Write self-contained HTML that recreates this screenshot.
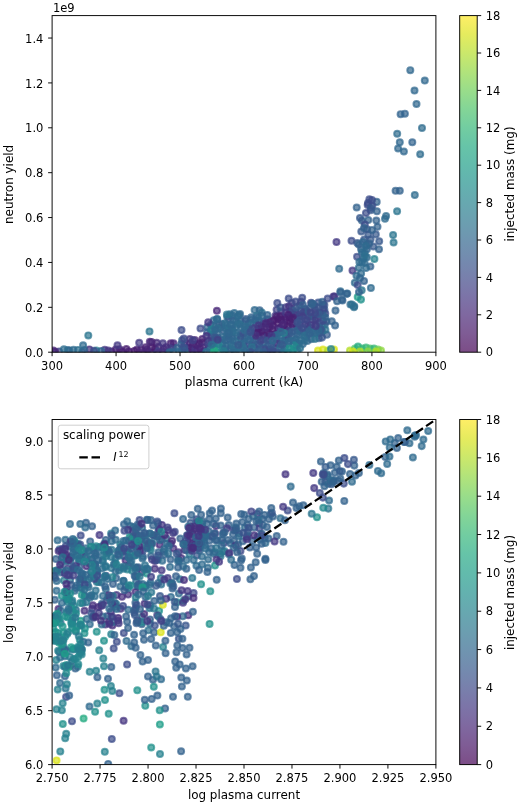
<!DOCTYPE html><html><head><meta charset="utf-8"><title>neutron yield vs plasma current</title><style>html,body{margin:0;padding:0;background:#fff;}svg{display:block;}text{font-family:"DejaVu Sans", "Liberation Sans", sans-serif;font-size:11.5px;fill:#000;}circle{fill:currentColor;stroke:currentColor;fill-opacity:0.7;stroke-opacity:0.7;stroke-width:1.95px;}</style></head><body>
<svg width="520" height="805" viewBox="0 0 520 805">
<defs>
<linearGradient id="vg" x1="0" y1="1" x2="0" y2="0">
<stop offset="0.000" stop-color="#7c4d87"/>
<stop offset="0.056" stop-color="#7f5c95"/>
<stop offset="0.111" stop-color="#7f68a0"/>
<stop offset="0.167" stop-color="#7c74a8"/>
<stop offset="0.222" stop-color="#7880ac"/>
<stop offset="0.278" stop-color="#738baf"/>
<stop offset="0.333" stop-color="#6f95b0"/>
<stop offset="0.389" stop-color="#6b9fb0"/>
<stop offset="0.444" stop-color="#67a8b0"/>
<stop offset="0.500" stop-color="#63b2af"/>
<stop offset="0.556" stop-color="#62bbac"/>
<stop offset="0.611" stop-color="#66c4a8"/>
<stop offset="0.667" stop-color="#72cda1"/>
<stop offset="0.722" stop-color="#83d597"/>
<stop offset="0.778" stop-color="#99dd8a"/>
<stop offset="0.833" stop-color="#b1e37b"/>
<stop offset="0.889" stop-color="#cbe86b"/>
<stop offset="0.944" stop-color="#e5eb5e"/>
<stop offset="1.000" stop-color="#feee66"/>
</linearGradient>
<clipPath id="ct"><rect x="52.1" y="15.6" width="383.80" height="336.60"/></clipPath>
<clipPath id="cb"><rect x="52.1" y="419.5" width="383.80" height="345.10"/></clipPath>
</defs>
<rect width="520" height="805" fill="#fff"/>
<g clip-path="url(#ct)">
<circle cx="299.3" cy="335.0" r="3.05" color="#38588c"/>
<circle cx="319.7" cy="333.0" r="3.05" color="#32658e"/>
<circle cx="296.2" cy="342.5" r="3.05" color="#355e8d"/>
<circle cx="315.8" cy="324.8" r="3.05" color="#404688"/>
<circle cx="156.7" cy="342.8" r="3.05" color="#472d7b"/>
<circle cx="173.0" cy="347.7" r="3.05" color="#3d4d8a"/>
<circle cx="291.8" cy="313.0" r="3.05" color="#3f4889"/>
<circle cx="293.1" cy="349.6" r="3.05" color="#218f8d"/>
<circle cx="264.0" cy="343.0" r="3.05" color="#306a8e"/>
<circle cx="300.1" cy="331.3" r="3.05" color="#32648e"/>
<circle cx="275.4" cy="315.7" r="3.05" color="#443b84"/>
<circle cx="237.9" cy="347.2" r="3.05" color="#31688e"/>
<circle cx="151.5" cy="352.6" r="3.05" color="#482071"/>
<circle cx="309.9" cy="327.4" r="3.05" color="#404688"/>
<circle cx="227.2" cy="316.8" r="3.05" color="#2f6c8e"/>
<circle cx="213.5" cy="334.5" r="3.05" color="#33638d"/>
<circle cx="243.5" cy="344.2" r="3.05" color="#33638d"/>
<circle cx="288.2" cy="337.9" r="3.05" color="#3a538b"/>
<circle cx="173.5" cy="343.3" r="3.05" color="#482979"/>
<circle cx="318.9" cy="338.3" r="3.05" color="#365c8d"/>
<circle cx="111.7" cy="351.4" r="3.05" color="#443b84"/>
<circle cx="320.7" cy="312.7" r="3.05" color="#33628d"/>
<circle cx="264.3" cy="321.4" r="3.05" color="#38588c"/>
<circle cx="208.8" cy="347.3" r="3.05" color="#2e6e8e"/>
<circle cx="315.5" cy="333.5" r="3.05" color="#2f6b8e"/>
<circle cx="276.5" cy="338.9" r="3.05" color="#32648e"/>
<circle cx="294.9" cy="314.2" r="3.05" color="#482173"/>
<circle cx="126.4" cy="349.1" r="3.05" color="#481f70"/>
<circle cx="155.1" cy="348.9" r="3.05" color="#472d7b"/>
<circle cx="298.5" cy="327.3" r="3.05" color="#3b518b"/>
<circle cx="311.0" cy="302.7" r="3.05" color="#414487"/>
<circle cx="263.6" cy="323.5" r="3.05" color="#453581"/>
<circle cx="291.7" cy="336.0" r="3.05" color="#30698e"/>
<circle cx="305.0" cy="308.7" r="3.05" color="#375a8c"/>
<circle cx="252.0" cy="335.9" r="3.05" color="#38588c"/>
<circle cx="299.0" cy="343.3" r="3.05" color="#2e6d8e"/>
<circle cx="192.7" cy="352.8" r="3.05" color="#433e85"/>
<circle cx="220.8" cy="327.8" r="3.05" color="#2e6d8e"/>
<circle cx="278.8" cy="349.2" r="3.05" color="#32658e"/>
<circle cx="266.8" cy="332.4" r="3.05" color="#472c7a"/>
<circle cx="119.7" cy="349.3" r="3.05" color="#482979"/>
<circle cx="259.6" cy="310.2" r="3.05" color="#33638d"/>
<circle cx="326.9" cy="334.8" r="3.05" color="#365c8d"/>
<circle cx="151.6" cy="342.0" r="3.05" color="#482374"/>
<circle cx="299.1" cy="316.2" r="3.05" color="#33638d"/>
<circle cx="223.2" cy="330.6" r="3.05" color="#34608d"/>
<circle cx="69.4" cy="350.4" r="3.05" color="#31688e"/>
<circle cx="281.2" cy="311.6" r="3.05" color="#424086"/>
<circle cx="278.2" cy="319.1" r="3.05" color="#482374"/>
<circle cx="324.8" cy="324.7" r="3.05" color="#2f6c8e"/>
<circle cx="317.5" cy="318.5" r="3.05" color="#463480"/>
<circle cx="297.6" cy="349.9" r="3.05" color="#25848e"/>
<circle cx="276.6" cy="309.8" r="3.05" color="#414487"/>
<circle cx="82.3" cy="351.8" r="3.05" color="#34608d"/>
<circle cx="326.5" cy="321.6" r="3.05" color="#38588c"/>
<circle cx="306.7" cy="310.6" r="3.05" color="#3c4f8a"/>
<circle cx="210.9" cy="324.7" r="3.05" color="#34608d"/>
<circle cx="163.7" cy="348.8" r="3.05" color="#482173"/>
<circle cx="297.0" cy="326.1" r="3.05" color="#3b518b"/>
<circle cx="285.5" cy="319.0" r="3.05" color="#472d7b"/>
<circle cx="122.2" cy="351.6" r="3.05" color="#482173"/>
<circle cx="241.4" cy="333.4" r="3.05" color="#375a8c"/>
<circle cx="275.0" cy="334.1" r="3.05" color="#33628d"/>
<circle cx="322.3" cy="331.5" r="3.05" color="#30698e"/>
<circle cx="311.3" cy="339.1" r="3.05" color="#33638d"/>
<circle cx="255.6" cy="339.1" r="3.05" color="#365c8d"/>
<circle cx="308.5" cy="316.5" r="3.05" color="#33628d"/>
<circle cx="263.5" cy="348.1" r="3.05" color="#31678e"/>
<circle cx="280.5" cy="307.4" r="3.05" color="#375a8c"/>
<circle cx="318.3" cy="302.5" r="3.05" color="#3b518b"/>
<circle cx="285.0" cy="340.2" r="3.05" color="#39558c"/>
<circle cx="285.4" cy="349.1" r="3.05" color="#2e6f8e"/>
<circle cx="221.8" cy="323.7" r="3.05" color="#355e8d"/>
<circle cx="276.8" cy="316.5" r="3.05" color="#482374"/>
<circle cx="322.1" cy="325.8" r="3.05" color="#306a8e"/>
<circle cx="53.4" cy="350.5" r="3.05" color="#482475"/>
<circle cx="273.8" cy="320.3" r="3.05" color="#481b6d"/>
<circle cx="245.2" cy="338.2" r="3.05" color="#30698e"/>
<circle cx="292.4" cy="352.1" r="3.05" color="#277f8e"/>
<circle cx="215.0" cy="326.3" r="3.05" color="#2c718e"/>
<circle cx="219.3" cy="347.5" r="3.05" color="#20928c"/>
<circle cx="232.5" cy="325.0" r="3.05" color="#2e6e8e"/>
<circle cx="212.4" cy="352.6" r="3.05" color="#1fa187"/>
<circle cx="158.6" cy="346.7" r="3.05" color="#472d7b"/>
<circle cx="281.3" cy="319.7" r="3.05" color="#482071"/>
<circle cx="207.1" cy="332.3" r="3.05" color="#365c8d"/>
<circle cx="260.5" cy="348.6" r="3.05" color="#3e4a89"/>
<circle cx="207.2" cy="327.1" r="3.05" color="#32658e"/>
<circle cx="208.6" cy="340.7" r="3.05" color="#443983"/>
<circle cx="259.3" cy="331.7" r="3.05" color="#453581"/>
<circle cx="59.1" cy="351.4" r="3.05" color="#404688"/>
<circle cx="228.7" cy="319.1" r="3.05" color="#3a538b"/>
<circle cx="268.0" cy="345.3" r="3.05" color="#34608d"/>
<circle cx="222.7" cy="343.7" r="3.05" color="#2e6f8e"/>
<circle cx="285.2" cy="329.7" r="3.05" color="#424186"/>
<circle cx="279.0" cy="332.9" r="3.05" color="#2f6b8e"/>
<circle cx="295.6" cy="339.6" r="3.05" color="#375a8c"/>
<circle cx="287.6" cy="325.9" r="3.05" color="#482374"/>
<circle cx="297.4" cy="333.9" r="3.05" color="#31668e"/>
<circle cx="192.9" cy="344.7" r="3.05" color="#46307e"/>
<circle cx="217.4" cy="333.6" r="3.05" color="#31688e"/>
<circle cx="225.0" cy="323.2" r="3.05" color="#2e6e8e"/>
<circle cx="292.7" cy="327.8" r="3.05" color="#443983"/>
<circle cx="188.1" cy="351.2" r="3.05" color="#38588c"/>
<circle cx="314.9" cy="338.9" r="3.05" color="#2c728e"/>
<circle cx="262.4" cy="331.6" r="3.05" color="#482071"/>
<circle cx="176.9" cy="347.7" r="3.05" color="#33628d"/>
<circle cx="243.8" cy="341.8" r="3.05" color="#31668e"/>
<circle cx="289.7" cy="317.6" r="3.05" color="#482071"/>
<circle cx="235.6" cy="352.0" r="3.05" color="#2f6b8e"/>
<circle cx="278.3" cy="328.9" r="3.05" color="#433d84"/>
<circle cx="129.0" cy="351.4" r="3.05" color="#482173"/>
<circle cx="292.1" cy="319.3" r="3.05" color="#481769"/>
<circle cx="157.1" cy="351.3" r="3.05" color="#404688"/>
<circle cx="286.2" cy="336.0" r="3.05" color="#3c4f8a"/>
<circle cx="204.4" cy="351.1" r="3.05" color="#39558c"/>
<circle cx="307.3" cy="312.8" r="3.05" color="#3d4d8a"/>
<circle cx="261.5" cy="326.8" r="3.05" color="#481f70"/>
<circle cx="188.5" cy="347.8" r="3.05" color="#482071"/>
<circle cx="213.5" cy="345.0" r="3.05" color="#2c718e"/>
<circle cx="280.8" cy="337.9" r="3.05" color="#2e6d8e"/>
<circle cx="218.7" cy="324.6" r="3.05" color="#33638d"/>
<circle cx="151.7" cy="347.4" r="3.05" color="#481a6c"/>
<circle cx="256.4" cy="324.3" r="3.05" color="#375a8c"/>
<circle cx="284.2" cy="325.6" r="3.05" color="#481d6f"/>
<circle cx="256.9" cy="345.3" r="3.05" color="#34608d"/>
<circle cx="319.7" cy="322.6" r="3.05" color="#3a538b"/>
<circle cx="237.1" cy="335.6" r="3.05" color="#2b758e"/>
<circle cx="211.4" cy="336.5" r="3.05" color="#3a538b"/>
<circle cx="231.8" cy="337.3" r="3.05" color="#33628d"/>
<circle cx="282.0" cy="340.8" r="3.05" color="#31668e"/>
<circle cx="222.3" cy="347.7" r="3.05" color="#26828e"/>
<circle cx="296.1" cy="347.2" r="3.05" color="#21918c"/>
<circle cx="226.3" cy="345.9" r="3.05" color="#31688e"/>
<circle cx="282.4" cy="352.8" r="3.05" color="#33638d"/>
<circle cx="211.0" cy="331.1" r="3.05" color="#2f6b8e"/>
<circle cx="254.6" cy="310.1" r="3.05" color="#306a8e"/>
<circle cx="235.8" cy="321.2" r="3.05" color="#2f6b8e"/>
<circle cx="251.8" cy="344.5" r="3.05" color="#355e8d"/>
<circle cx="259.0" cy="344.8" r="3.05" color="#365c8d"/>
<circle cx="247.9" cy="327.1" r="3.05" color="#33628d"/>
<circle cx="277.1" cy="343.5" r="3.05" color="#414487"/>
<circle cx="241.4" cy="352.5" r="3.05" color="#31668e"/>
<circle cx="254.3" cy="347.5" r="3.05" color="#3b518b"/>
<circle cx="275.0" cy="343.2" r="3.05" color="#433e85"/>
<circle cx="137.0" cy="349.5" r="3.05" color="#482173"/>
<circle cx="290.3" cy="311.5" r="3.05" color="#414487"/>
<circle cx="225.3" cy="340.2" r="3.05" color="#31668e"/>
<circle cx="314.2" cy="305.5" r="3.05" color="#31688e"/>
<circle cx="250.4" cy="323.6" r="3.05" color="#32658e"/>
<circle cx="241.0" cy="344.1" r="3.05" color="#2f6c8e"/>
<circle cx="289.8" cy="321.7" r="3.05" color="#481d6f"/>
<circle cx="211.5" cy="329.3" r="3.05" color="#277e8e"/>
<circle cx="267.6" cy="319.2" r="3.05" color="#424086"/>
<circle cx="225.8" cy="328.3" r="3.05" color="#30698e"/>
<circle cx="202.3" cy="339.0" r="3.05" color="#482374"/>
<circle cx="170.7" cy="343.3" r="3.05" color="#482475"/>
<circle cx="289.3" cy="330.7" r="3.05" color="#424186"/>
<circle cx="222.7" cy="337.1" r="3.05" color="#30698e"/>
<circle cx="285.9" cy="307.3" r="3.05" color="#424186"/>
<circle cx="270.7" cy="321.4" r="3.05" color="#482173"/>
<circle cx="259.0" cy="336.5" r="3.05" color="#443b84"/>
<circle cx="67.7" cy="350.0" r="3.05" color="#31678e"/>
<circle cx="226.2" cy="325.3" r="3.05" color="#2f6b8e"/>
<circle cx="217.2" cy="319.0" r="3.05" color="#32658e"/>
<circle cx="258.4" cy="320.8" r="3.05" color="#32658e"/>
<circle cx="240.5" cy="339.2" r="3.05" color="#31668e"/>
<circle cx="311.4" cy="319.7" r="3.05" color="#3a538b"/>
<circle cx="293.8" cy="340.5" r="3.05" color="#2f6b8e"/>
<circle cx="325.3" cy="313.4" r="3.05" color="#3e4a89"/>
<circle cx="263.6" cy="335.6" r="3.05" color="#482071"/>
<circle cx="311.4" cy="325.1" r="3.05" color="#443983"/>
<circle cx="108.3" cy="350.5" r="3.05" color="#463480"/>
<circle cx="289.6" cy="333.2" r="3.05" color="#375a8c"/>
<circle cx="303.7" cy="312.1" r="3.05" color="#34608d"/>
<circle cx="295.4" cy="312.1" r="3.05" color="#424086"/>
<circle cx="217.8" cy="328.4" r="3.05" color="#2f6c8e"/>
<circle cx="272.7" cy="329.4" r="3.05" color="#481d6f"/>
<circle cx="289.0" cy="306.2" r="3.05" color="#463480"/>
<circle cx="261.8" cy="312.5" r="3.05" color="#2e6f8e"/>
<circle cx="324.4" cy="309.6" r="3.05" color="#375a8c"/>
<circle cx="255.6" cy="320.3" r="3.05" color="#31668e"/>
<circle cx="307.8" cy="326.0" r="3.05" color="#3c4f8a"/>
<circle cx="274.3" cy="336.6" r="3.05" color="#365c8d"/>
<circle cx="254.7" cy="352.8" r="3.05" color="#404688"/>
<circle cx="134.3" cy="350.9" r="3.05" color="#481c6e"/>
<circle cx="253.1" cy="341.3" r="3.05" color="#34608d"/>
<circle cx="170.4" cy="348.2" r="3.05" color="#414487"/>
<circle cx="258.1" cy="328.7" r="3.05" color="#482173"/>
<circle cx="233.1" cy="320.2" r="3.05" color="#31668e"/>
<circle cx="314.9" cy="315.5" r="3.05" color="#355e8d"/>
<circle cx="245.4" cy="320.7" r="3.05" color="#2f6b8e"/>
<circle cx="302.8" cy="344.1" r="3.05" color="#31688e"/>
<circle cx="268.8" cy="339.0" r="3.05" color="#424086"/>
<circle cx="236.1" cy="341.2" r="3.05" color="#2e6d8e"/>
<circle cx="325.4" cy="329.7" r="3.05" color="#2d708e"/>
<circle cx="256.5" cy="316.3" r="3.05" color="#2c728e"/>
<circle cx="209.8" cy="346.9" r="3.05" color="#2f6b8e"/>
<circle cx="222.0" cy="339.8" r="3.05" color="#31668e"/>
<circle cx="226.8" cy="336.5" r="3.05" color="#306a8e"/>
<circle cx="240.3" cy="321.0" r="3.05" color="#355e8d"/>
<circle cx="300.9" cy="310.8" r="3.05" color="#414487"/>
<circle cx="258.8" cy="325.3" r="3.05" color="#443983"/>
<circle cx="319.7" cy="328.0" r="3.05" color="#32648e"/>
<circle cx="77.9" cy="349.9" r="3.05" color="#2d708e"/>
<circle cx="284.0" cy="333.1" r="3.05" color="#287c8e"/>
<circle cx="323.2" cy="309.2" r="3.05" color="#3f4889"/>
<circle cx="55.1" cy="351.8" r="3.05" color="#482677"/>
<circle cx="300.6" cy="314.2" r="3.05" color="#3f4889"/>
<circle cx="235.6" cy="327.4" r="3.05" color="#2f6b8e"/>
<circle cx="254.3" cy="328.1" r="3.05" color="#433e85"/>
<circle cx="297.2" cy="330.3" r="3.05" color="#31668e"/>
<circle cx="284.0" cy="351.8" r="3.05" color="#2c728e"/>
<circle cx="213.8" cy="320.2" r="3.05" color="#31678e"/>
<circle cx="292.6" cy="309.8" r="3.05" color="#3d4d8a"/>
<circle cx="232.3" cy="329.2" r="3.05" color="#31688e"/>
<circle cx="300.2" cy="325.0" r="3.05" color="#3d4d8a"/>
<circle cx="283.8" cy="345.0" r="3.05" color="#30698e"/>
<circle cx="293.9" cy="345.3" r="3.05" color="#25858e"/>
<circle cx="240.1" cy="314.1" r="3.05" color="#31678e"/>
<circle cx="324.4" cy="304.9" r="3.05" color="#39558c"/>
<circle cx="265.2" cy="352.8" r="3.05" color="#32658e"/>
<circle cx="227.4" cy="332.9" r="3.05" color="#306a8e"/>
<circle cx="304.6" cy="332.2" r="3.05" color="#375a8c"/>
<circle cx="260.5" cy="341.1" r="3.05" color="#3c4f8a"/>
<circle cx="270.2" cy="324.2" r="3.05" color="#472d7b"/>
<circle cx="229.3" cy="335.5" r="3.05" color="#32648e"/>
<circle cx="269.7" cy="349.2" r="3.05" color="#433e85"/>
<circle cx="230.5" cy="344.1" r="3.05" color="#31688e"/>
<circle cx="315.3" cy="309.7" r="3.05" color="#404688"/>
<circle cx="229.3" cy="351.1" r="3.05" color="#30698e"/>
<circle cx="234.1" cy="349.5" r="3.05" color="#2c718e"/>
<circle cx="212.0" cy="341.0" r="3.05" color="#424086"/>
<circle cx="96.3" cy="350.6" r="3.05" color="#26828e"/>
<circle cx="229.4" cy="328.7" r="3.05" color="#2e6e8e"/>
<circle cx="240.2" cy="324.0" r="3.05" color="#2e6d8e"/>
<circle cx="189.7" cy="343.3" r="3.05" color="#482475"/>
<circle cx="225.6" cy="352.3" r="3.05" color="#23888e"/>
<circle cx="147.8" cy="351.3" r="3.05" color="#472c7a"/>
<circle cx="269.3" cy="327.3" r="3.05" color="#482071"/>
<circle cx="292.0" cy="324.0" r="3.05" color="#482374"/>
<circle cx="217.5" cy="337.7" r="3.05" color="#34608d"/>
<circle cx="280.0" cy="328.1" r="3.05" color="#453882"/>
<circle cx="272.8" cy="325.8" r="3.05" color="#482374"/>
<circle cx="280.3" cy="347.2" r="3.05" color="#2f6b8e"/>
<circle cx="288.3" cy="343.8" r="3.05" color="#33628d"/>
<circle cx="307.2" cy="333.7" r="3.05" color="#355e8d"/>
<circle cx="230.7" cy="348.4" r="3.05" color="#32648e"/>
<circle cx="146.9" cy="349.4" r="3.05" color="#472c7a"/>
<circle cx="289.6" cy="348.0" r="3.05" color="#21918c"/>
<circle cx="240.6" cy="336.2" r="3.05" color="#38588c"/>
<circle cx="247.8" cy="352.8" r="3.05" color="#30698e"/>
<circle cx="213.7" cy="347.7" r="3.05" color="#228c8d"/>
<circle cx="311.9" cy="316.8" r="3.05" color="#33628d"/>
<circle cx="243.6" cy="333.3" r="3.05" color="#3a538b"/>
<circle cx="251.4" cy="319.6" r="3.05" color="#2f6b8e"/>
<circle cx="312.3" cy="331.9" r="3.05" color="#32658e"/>
<circle cx="277.7" cy="322.8" r="3.05" color="#481d6f"/>
<circle cx="272.5" cy="349.6" r="3.05" color="#3c4f8a"/>
<circle cx="104.8" cy="349.8" r="3.05" color="#453882"/>
<circle cx="267.4" cy="336.5" r="3.05" color="#433d84"/>
<circle cx="323.2" cy="315.3" r="3.05" color="#34608d"/>
<circle cx="158.2" cy="352.8" r="3.05" color="#463480"/>
<circle cx="248.2" cy="323.9" r="3.05" color="#2f6c8e"/>
<circle cx="281.5" cy="344.6" r="3.05" color="#375a8c"/>
<circle cx="309.9" cy="307.9" r="3.05" color="#38588c"/>
<circle cx="319.3" cy="312.9" r="3.05" color="#3e4a89"/>
<circle cx="262.6" cy="339.6" r="3.05" color="#414487"/>
<circle cx="307.4" cy="341.0" r="3.05" color="#31688e"/>
<circle cx="197.0" cy="351.2" r="3.05" color="#453882"/>
<circle cx="323.1" cy="304.4" r="3.05" color="#3b518b"/>
<circle cx="307.1" cy="320.1" r="3.05" color="#414487"/>
<circle cx="244.6" cy="330.1" r="3.05" color="#306a8e"/>
<circle cx="141.1" cy="349.6" r="3.05" color="#482475"/>
<circle cx="191.9" cy="348.9" r="3.05" color="#482878"/>
<circle cx="235.6" cy="332.9" r="3.05" color="#31688e"/>
<circle cx="206.5" cy="335.9" r="3.05" color="#463480"/>
<circle cx="249.4" cy="332.0" r="3.05" color="#31678e"/>
<circle cx="181.2" cy="344.0" r="3.05" color="#365c8d"/>
<circle cx="173.5" cy="351.9" r="3.05" color="#32648e"/>
<circle cx="296.2" cy="307.5" r="3.05" color="#375a8c"/>
<circle cx="194.9" cy="340.1" r="3.05" color="#482878"/>
<circle cx="297.7" cy="319.1" r="3.05" color="#424186"/>
<circle cx="162.9" cy="343.3" r="3.05" color="#453882"/>
<circle cx="216.1" cy="340.8" r="3.05" color="#355e8d"/>
<circle cx="284.8" cy="317.4" r="3.05" color="#482173"/>
<circle cx="292.4" cy="331.8" r="3.05" color="#355e8d"/>
<circle cx="307.6" cy="329.8" r="3.05" color="#32658e"/>
<circle cx="234.2" cy="352.8" r="3.05" color="#30698e"/>
<circle cx="200.9" cy="352.8" r="3.05" color="#3f4889"/>
<circle cx="218.5" cy="352.8" r="3.05" color="#218f8d"/>
<circle cx="247.7" cy="336.8" r="3.05" color="#33628d"/>
<circle cx="305.1" cy="324.3" r="3.05" color="#433e85"/>
<circle cx="199.0" cy="343.5" r="3.05" color="#482173"/>
<circle cx="184.6" cy="344.9" r="3.05" color="#463480"/>
<circle cx="302.5" cy="316.6" r="3.05" color="#433e85"/>
<circle cx="249.3" cy="349.1" r="3.05" color="#31668e"/>
<circle cx="183.0" cy="347.5" r="3.05" color="#3a538b"/>
<circle cx="218.4" cy="344.5" r="3.05" color="#277f8e"/>
<circle cx="232.2" cy="315.5" r="3.05" color="#33638d"/>
<circle cx="202.5" cy="342.5" r="3.05" color="#482374"/>
<circle cx="292.9" cy="317.8" r="3.05" color="#482374"/>
<circle cx="272.8" cy="351.6" r="3.05" color="#424186"/>
<circle cx="257.0" cy="332.9" r="3.05" color="#481f70"/>
<circle cx="203.0" cy="346.9" r="3.05" color="#472f7d"/>
<circle cx="315.4" cy="319.4" r="3.05" color="#433e85"/>
<circle cx="280.6" cy="316.1" r="3.05" color="#481f70"/>
<circle cx="265.9" cy="349.2" r="3.05" color="#3c4f8a"/>
<circle cx="263.5" cy="351.9" r="3.05" color="#365c8d"/>
<circle cx="266.1" cy="323.6" r="3.05" color="#482878"/>
<circle cx="245.8" cy="319.0" r="3.05" color="#365c8d"/>
<circle cx="276.7" cy="352.8" r="3.05" color="#39558c"/>
<circle cx="306.3" cy="337.3" r="3.05" color="#32658e"/>
<circle cx="232.9" cy="331.6" r="3.05" color="#2f6c8e"/>
<circle cx="184.6" cy="350.8" r="3.05" color="#2e6f8e"/>
<circle cx="238.2" cy="323.9" r="3.05" color="#2f6c8e"/>
<circle cx="232.6" cy="345.5" r="3.05" color="#2e6f8e"/>
<circle cx="300.1" cy="320.0" r="3.05" color="#3b518b"/>
<circle cx="225.1" cy="349.0" r="3.05" color="#31668e"/>
<circle cx="251.0" cy="329.6" r="3.05" color="#3d4d8a"/>
<circle cx="115.8" cy="349.6" r="3.05" color="#482173"/>
<circle cx="228.9" cy="339.2" r="3.05" color="#32648e"/>
<circle cx="145.5" cy="347.2" r="3.05" color="#482374"/>
<circle cx="238.2" cy="316.3" r="3.05" color="#2f6b8e"/>
<circle cx="195.3" cy="349.6" r="3.05" color="#453581"/>
<circle cx="168.1" cy="352.4" r="3.05" color="#365c8d"/>
<circle cx="271.2" cy="345.5" r="3.05" color="#365c8d"/>
<circle cx="189.8" cy="339.0" r="3.05" color="#46327e"/>
<circle cx="229.0" cy="332.8" r="3.05" color="#31678e"/>
<circle cx="245.0" cy="326.9" r="3.05" color="#306a8e"/>
<circle cx="269.2" cy="333.6" r="3.05" color="#481f70"/>
<circle cx="223.6" cy="351.1" r="3.05" color="#297b8e"/>
<circle cx="302.4" cy="328.0" r="3.05" color="#3d4d8a"/>
<circle cx="304.5" cy="335.8" r="3.05" color="#2e6f8e"/>
<circle cx="208.4" cy="343.3" r="3.05" color="#414487"/>
<circle cx="73.5" cy="349.7" r="3.05" color="#2f6b8e"/>
<circle cx="215.2" cy="337.5" r="3.05" color="#38588c"/>
<circle cx="233.0" cy="340.7" r="3.05" color="#31678e"/>
<circle cx="267.6" cy="340.4" r="3.05" color="#38588c"/>
<circle cx="196.5" cy="344.9" r="3.05" color="#482475"/>
<circle cx="63.9" cy="349.2" r="3.05" color="#2e6e8e"/>
<circle cx="323.0" cy="320.7" r="3.05" color="#3d4d8a"/>
<circle cx="101.2" cy="350.9" r="3.05" color="#32658e"/>
<circle cx="300.1" cy="348.2" r="3.05" color="#2e6f8e"/>
<circle cx="280.9" cy="331.8" r="3.05" color="#306a8e"/>
<circle cx="249.5" cy="344.5" r="3.05" color="#3c4f8a"/>
<circle cx="318.8" cy="314.1" r="3.05" color="#365c8d"/>
<circle cx="287.9" cy="352.8" r="3.05" color="#277f8e"/>
<circle cx="299.5" cy="305.5" r="3.05" color="#375a8c"/>
<circle cx="178.8" cy="351.4" r="3.05" color="#306a8e"/>
<circle cx="251.9" cy="347.1" r="3.05" color="#2d708e"/>
<circle cx="166.1" cy="347.2" r="3.05" color="#472f7d"/>
<circle cx="320.9" cy="329.7" r="3.05" color="#39558c"/>
<circle cx="250.3" cy="352.0" r="3.05" color="#3c4f8a"/>
<circle cx="276.7" cy="334.9" r="3.05" color="#306a8e"/>
<circle cx="301.1" cy="301.8" r="3.05" color="#424186"/>
<circle cx="317.2" cy="307.1" r="3.05" color="#39558c"/>
<circle cx="199.9" cy="348.6" r="3.05" color="#482677"/>
<circle cx="215.0" cy="329.7" r="3.05" color="#31668e"/>
<circle cx="214.4" cy="350.8" r="3.05" color="#25ab82"/>
<circle cx="182.1" cy="340.3" r="3.05" color="#355e8d"/>
<circle cx="314.5" cy="332.3" r="3.05" color="#30698e"/>
<circle cx="206.3" cy="351.7" r="3.05" color="#2e6e8e"/>
<circle cx="271.5" cy="335.7" r="3.05" color="#443b84"/>
<circle cx="162.6" cy="352.1" r="3.05" color="#46327e"/>
<circle cx="251.3" cy="317.3" r="3.05" color="#32648e"/>
<circle cx="304.5" cy="340.7" r="3.05" color="#2f6c8e"/>
<circle cx="217.7" cy="339.8" r="3.05" color="#424186"/>
<circle cx="183.8" cy="338.6" r="3.05" color="#3f4889"/>
<circle cx="241.3" cy="348.0" r="3.05" color="#2e6f8e"/>
<circle cx="315.1" cy="313.3" r="3.05" color="#3f4889"/>
<circle cx="297.4" cy="322.4" r="3.05" color="#3a538b"/>
<circle cx="181.9" cy="351.8" r="3.05" color="#32648e"/>
<circle cx="169.5" cy="352.2" r="3.05" color="#31668e"/>
<circle cx="143.7" cy="352.6" r="3.05" color="#482878"/>
<circle cx="243.1" cy="347.2" r="3.05" color="#2f6c8e"/>
<circle cx="271.7" cy="351.3" r="3.05" color="#3b518b"/>
<circle cx="302.9" cy="304.5" r="3.05" color="#34608d"/>
<circle cx="241.3" cy="327.8" r="3.05" color="#306a8e"/>
<circle cx="285.6" cy="312.6" r="3.05" color="#443b84"/>
<circle cx="229.9" cy="314.3" r="3.05" color="#2f6b8e"/>
<circle cx="318.6" cy="330.6" r="3.05" color="#31668e"/>
<circle cx="322.0" cy="337.6" r="3.05" color="#39558c"/>
<circle cx="258.4" cy="351.6" r="3.05" color="#33628d"/>
<circle cx="288.2" cy="314.7" r="3.05" color="#482173"/>
<circle cx="300.4" cy="340.4" r="3.05" color="#2f6c8e"/>
<circle cx="230.7" cy="324.8" r="3.05" color="#31688e"/>
<circle cx="255.7" cy="335.6" r="3.05" color="#46327e"/>
<circle cx="89.4" cy="349.4" r="3.05" color="#46307e"/>
<circle cx="310.6" cy="312.6" r="3.05" color="#404688"/>
<circle cx="238.3" cy="344.9" r="3.05" color="#375a8c"/>
<circle cx="258.2" cy="317.2" r="3.05" color="#32658e"/>
<circle cx="211.7" cy="344.7" r="3.05" color="#2f6c8e"/>
<circle cx="94.0" cy="350.8" r="3.05" color="#3d4d8a"/>
<circle cx="325.3" cy="317.5" r="3.05" color="#33628d"/>
<circle cx="262.2" cy="315.8" r="3.05" color="#30698e"/>
<circle cx="288.9" cy="341.2" r="3.05" color="#31688e"/>
<circle cx="282.7" cy="324.3" r="3.05" color="#482677"/>
<circle cx="305.0" cy="319.6" r="3.05" color="#3f4889"/>
<circle cx="291.7" cy="303.1" r="3.05" color="#433d84"/>
<circle cx="245.4" cy="351.1" r="3.05" color="#31668e"/>
<circle cx="250.5" cy="331.9" r="3.05" color="#3a538b"/>
<circle cx="184.3" cy="347.7" r="3.05" color="#3b518b"/>
<circle cx="249.2" cy="339.7" r="3.05" color="#31678e"/>
<circle cx="315.8" cy="326.1" r="3.05" color="#433d84"/>
<circle cx="192.9" cy="340.2" r="3.05" color="#424186"/>
<circle cx="272.7" cy="340.6" r="3.05" color="#30698e"/>
<circle cx="267.4" cy="315.0" r="3.05" color="#32648e"/>
<circle cx="84.3" cy="349.9" r="3.05" color="#33638d"/>
<circle cx="265.4" cy="327.9" r="3.05" color="#472c7a"/>
<circle cx="309.6" cy="333.8" r="3.05" color="#32648e"/>
<circle cx="410.3" cy="70.2" r="3.05" color="#31688e"/>
<circle cx="424.8" cy="80.6" r="3.05" color="#31688e"/>
<circle cx="414.5" cy="90.6" r="3.05" color="#31688e"/>
<circle cx="416.5" cy="104.0" r="3.05" color="#31688e"/>
<circle cx="400.6" cy="114.2" r="3.05" color="#32648e"/>
<circle cx="404.9" cy="113.7" r="3.05" color="#32648e"/>
<circle cx="422.0" cy="128.0" r="3.05" color="#2f6c8e"/>
<circle cx="397.2" cy="133.7" r="3.05" color="#2f6c8e"/>
<circle cx="399.8" cy="142.3" r="3.05" color="#31688e"/>
<circle cx="412.3" cy="142.3" r="3.05" color="#32648e"/>
<circle cx="398.1" cy="148.5" r="3.05" color="#31688e"/>
<circle cx="403.9" cy="151.5" r="3.05" color="#31688e"/>
<circle cx="420.2" cy="154.2" r="3.05" color="#2f6c8e"/>
<circle cx="395.6" cy="190.8" r="3.05" color="#33628d"/>
<circle cx="399.8" cy="190.8" r="3.05" color="#33628d"/>
<circle cx="414.8" cy="195.0" r="3.05" color="#2f6c8e"/>
<circle cx="356.7" cy="207.5" r="3.05" color="#33628d"/>
<circle cx="369.4" cy="199.2" r="3.05" color="#3d4d8a"/>
<circle cx="376.7" cy="201.9" r="3.05" color="#33628d"/>
<circle cx="367.7" cy="205.0" r="3.05" color="#3d4d8a"/>
<circle cx="372.3" cy="206.1" r="3.05" color="#3d4d8a"/>
<circle cx="370.6" cy="210.2" r="3.05" color="#38588c"/>
<circle cx="376.9" cy="211.3" r="3.05" color="#33628d"/>
<circle cx="386.1" cy="216.0" r="3.05" color="#2f6b8e"/>
<circle cx="385.0" cy="218.8" r="3.05" color="#2f6b8e"/>
<circle cx="397.1" cy="211.3" r="3.05" color="#2b758e"/>
<circle cx="361.9" cy="220.6" r="3.05" color="#33628d"/>
<circle cx="368.3" cy="220.0" r="3.05" color="#33628d"/>
<circle cx="376.3" cy="220.6" r="3.05" color="#33628d"/>
<circle cx="377.5" cy="226.7" r="3.05" color="#33628d"/>
<circle cx="364.8" cy="224.6" r="3.05" color="#3d4d8a"/>
<circle cx="361.3" cy="231.5" r="3.05" color="#38588c"/>
<circle cx="367.1" cy="229.2" r="3.05" color="#38588c"/>
<circle cx="368.3" cy="234.4" r="3.05" color="#38588c"/>
<circle cx="375.8" cy="234.4" r="3.05" color="#38588c"/>
<circle cx="351.5" cy="240.8" r="3.05" color="#3d4d8a"/>
<circle cx="357.3" cy="243.1" r="3.05" color="#38588c"/>
<circle cx="364.2" cy="239.6" r="3.05" color="#38588c"/>
<circle cx="370.6" cy="239.6" r="3.05" color="#38588c"/>
<circle cx="379.2" cy="241.3" r="3.05" color="#38588c"/>
<circle cx="366.5" cy="245.4" r="3.05" color="#38588c"/>
<circle cx="373.4" cy="246.5" r="3.05" color="#38588c"/>
<circle cx="393.1" cy="235.0" r="3.05" color="#2b758e"/>
<circle cx="393.6" cy="242.5" r="3.05" color="#2b758e"/>
<circle cx="336.5" cy="242.0" r="3.05" color="#443983"/>
<circle cx="358.8" cy="244.6" r="3.05" color="#33628d"/>
<circle cx="369.2" cy="243.5" r="3.05" color="#33628d"/>
<circle cx="361.1" cy="249.2" r="3.05" color="#33628d"/>
<circle cx="366.9" cy="249.2" r="3.05" color="#33628d"/>
<circle cx="379.0" cy="249.2" r="3.05" color="#33628d"/>
<circle cx="364.6" cy="252.7" r="3.05" color="#2f6b8e"/>
<circle cx="357.1" cy="256.7" r="3.05" color="#3d4d8a"/>
<circle cx="363.4" cy="258.5" r="3.05" color="#2f6b8e"/>
<circle cx="366.9" cy="257.3" r="3.05" color="#2f6b8e"/>
<circle cx="374.4" cy="259.0" r="3.05" color="#26828e"/>
<circle cx="359.4" cy="261.9" r="3.05" color="#2f6b8e"/>
<circle cx="364.6" cy="263.0" r="3.05" color="#2f6b8e"/>
<circle cx="370.4" cy="266.5" r="3.05" color="#33628d"/>
<circle cx="339.2" cy="268.8" r="3.05" color="#2f6b8e"/>
<circle cx="352.5" cy="270.6" r="3.05" color="#443983"/>
<circle cx="358.8" cy="267.7" r="3.05" color="#2f6b8e"/>
<circle cx="361.1" cy="273.4" r="3.05" color="#2f6b8e"/>
<circle cx="356.5" cy="275.8" r="3.05" color="#2f6b8e"/>
<circle cx="354.8" cy="282.7" r="3.05" color="#2f6b8e"/>
<circle cx="357.7" cy="285.0" r="3.05" color="#3d4d8a"/>
<circle cx="361.7" cy="290.2" r="3.05" color="#2b758e"/>
<circle cx="370.9" cy="287.9" r="3.05" color="#2f6b8e"/>
<circle cx="333.5" cy="296.5" r="3.05" color="#443983"/>
<circle cx="340.4" cy="291.3" r="3.05" color="#2f6b8e"/>
<circle cx="347.3" cy="293.6" r="3.05" color="#2f6b8e"/>
<circle cx="357.7" cy="297.1" r="3.05" color="#1f9e89"/>
<circle cx="361.0" cy="299.6" r="3.05" color="#21918c"/>
<circle cx="341.8" cy="299.6" r="3.05" color="#33628d"/>
<circle cx="350.4" cy="304.4" r="3.05" color="#2f6b8e"/>
<circle cx="354.3" cy="306.3" r="3.05" color="#2f6b8e"/>
<circle cx="288.7" cy="298.5" r="3.05" color="#3d4d8a"/>
<circle cx="302.2" cy="297.8" r="3.05" color="#3d4d8a"/>
<circle cx="312.2" cy="303.8" r="3.05" color="#33628d"/>
<circle cx="322.3" cy="301.8" r="3.05" color="#33628d"/>
<circle cx="327.7" cy="298.5" r="3.05" color="#3d4d8a"/>
<circle cx="334.5" cy="296.4" r="3.05" color="#443983"/>
<circle cx="340.5" cy="292.4" r="3.05" color="#33628d"/>
<circle cx="346.6" cy="293.7" r="3.05" color="#33628d"/>
<circle cx="342.5" cy="300.5" r="3.05" color="#33628d"/>
<circle cx="337.1" cy="301.2" r="3.05" color="#33628d"/>
<circle cx="335.5" cy="310.6" r="3.05" color="#33628d"/>
<circle cx="352.0" cy="304.5" r="3.05" color="#2e6f8e"/>
<circle cx="354.0" cy="307.2" r="3.05" color="#2e6f8e"/>
<circle cx="331.8" cy="321.3" r="3.05" color="#33628d"/>
<circle cx="335.1" cy="325.4" r="3.05" color="#33628d"/>
<circle cx="277.3" cy="303.1" r="3.05" color="#3d4d8a"/>
<circle cx="295.6" cy="301.5" r="3.05" color="#3d4d8a"/>
<circle cx="312.0" cy="303.5" r="3.05" color="#33628d"/>
<circle cx="216.9" cy="310.8" r="3.05" color="#482878"/>
<circle cx="226.9" cy="314.6" r="3.05" color="#2b758e"/>
<circle cx="181.5" cy="330.0" r="3.05" color="#3d4d8a"/>
<circle cx="200.5" cy="328.5" r="3.05" color="#3d4d8a"/>
<circle cx="149.5" cy="331.4" r="3.05" color="#2b758e"/>
<circle cx="208.2" cy="322.3" r="3.05" color="#443983"/>
<circle cx="216.9" cy="319.2" r="3.05" color="#2f6b8e"/>
<circle cx="234.3" cy="313.0" r="3.05" color="#2f6b8e"/>
<circle cx="239.1" cy="315.0" r="3.05" color="#2f6b8e"/>
<circle cx="88.3" cy="335.4" r="3.05" color="#2b758e"/>
<circle cx="83.1" cy="345.2" r="3.05" color="#2f6b8e"/>
<circle cx="117.5" cy="345.2" r="3.05" color="#443983"/>
<circle cx="139.2" cy="342.8" r="3.05" color="#443983"/>
<circle cx="149.8" cy="341.8" r="3.05" color="#482878"/>
<circle cx="318.0" cy="350.5" r="3.05" color="#dae319"/>
<circle cx="323.0" cy="349.5" r="3.05" color="#dae319"/>
<circle cx="328.0" cy="350.5" r="3.05" color="#b5de2b"/>
<circle cx="334.0" cy="349.5" r="3.05" color="#dae319"/>
<circle cx="331.0" cy="349.0" r="3.05" color="#26828e"/>
<circle cx="350.0" cy="350.5" r="3.05" color="#b5de2b"/>
<circle cx="355.0" cy="348.5" r="3.05" color="#4ec36b"/>
<circle cx="358.0" cy="346.5" r="3.05" color="#25ab82"/>
<circle cx="362.0" cy="348.5" r="3.05" color="#35b779"/>
<circle cx="366.0" cy="347.5" r="3.05" color="#35b779"/>
<circle cx="370.0" cy="348.5" r="3.05" color="#4ec36b"/>
<circle cx="374.0" cy="348.5" r="3.05" color="#35b779"/>
<circle cx="378.0" cy="349.5" r="3.05" color="#6ece58"/>
<circle cx="381.0" cy="350.5" r="3.05" color="#90d743"/>
<circle cx="353.0" cy="351.5" r="3.05" color="#dae319"/>
<circle cx="360.0" cy="351.5" r="3.05" color="#b5de2b"/>
<circle cx="368.0" cy="351.5" r="3.05" color="#90d743"/>
<circle cx="376.0" cy="351.5" r="3.05" color="#b5de2b"/>
<circle cx="363.0" cy="242.0" r="3.05" color="#31668e"/>
<circle cx="366.0" cy="246.0" r="3.05" color="#2f6b8e"/>
<circle cx="362.0" cy="252.0" r="3.05" color="#2f6b8e"/>
<circle cx="365.0" cy="256.0" r="3.05" color="#2e6f8e"/>
<circle cx="362.0" cy="262.0" r="3.05" color="#2f6b8e"/>
<circle cx="366.0" cy="268.0" r="3.05" color="#2f6b8e"/>
<circle cx="360.0" cy="278.0" r="3.05" color="#31668e"/>
<circle cx="364.0" cy="281.0" r="3.05" color="#33628d"/>
<circle cx="359.0" cy="292.0" r="3.05" color="#33628d"/>
<circle cx="368.0" cy="203.0" r="3.05" color="#3d4d8a"/>
<circle cx="372.0" cy="200.0" r="3.05" color="#3d4d8a"/>
<circle cx="371.0" cy="208.0" r="3.05" color="#38588c"/>
<circle cx="366.0" cy="213.0" r="3.05" color="#3d4d8a"/>
<circle cx="360.0" cy="218.0" r="3.05" color="#38588c"/>
<circle cx="364.0" cy="228.0" r="3.05" color="#33628d"/>
<circle cx="372.0" cy="230.0" r="3.05" color="#33628d"/>
</g>
<rect x="52.1" y="15.6" width="383.80" height="336.60" fill="none" stroke="#000" stroke-width="0.95"/>
<line x1="52.10" y1="352.2" x2="52.10" y2="356.2" stroke="#000" stroke-width="0.95"/>
<text x="52.10" y="369.6" text-anchor="middle">300</text>
<line x1="116.07" y1="352.2" x2="116.07" y2="356.2" stroke="#000" stroke-width="0.95"/>
<text x="116.07" y="369.6" text-anchor="middle">400</text>
<line x1="180.03" y1="352.2" x2="180.03" y2="356.2" stroke="#000" stroke-width="0.95"/>
<text x="180.03" y="369.6" text-anchor="middle">500</text>
<line x1="244.00" y1="352.2" x2="244.00" y2="356.2" stroke="#000" stroke-width="0.95"/>
<text x="244.00" y="369.6" text-anchor="middle">600</text>
<line x1="307.97" y1="352.2" x2="307.97" y2="356.2" stroke="#000" stroke-width="0.95"/>
<text x="307.97" y="369.6" text-anchor="middle">700</text>
<line x1="371.93" y1="352.2" x2="371.93" y2="356.2" stroke="#000" stroke-width="0.95"/>
<text x="371.93" y="369.6" text-anchor="middle">800</text>
<line x1="435.90" y1="352.2" x2="435.90" y2="356.2" stroke="#000" stroke-width="0.95"/>
<text x="435.90" y="369.6" text-anchor="middle">900</text>
<line x1="48.1" y1="352.20" x2="52.1" y2="352.20" stroke="#000" stroke-width="0.95"/>
<text x="43.4" y="356.80" text-anchor="end">0.0</text>
<line x1="48.1" y1="307.32" x2="52.1" y2="307.32" stroke="#000" stroke-width="0.95"/>
<text x="43.4" y="311.92" text-anchor="end">0.2</text>
<line x1="48.1" y1="262.44" x2="52.1" y2="262.44" stroke="#000" stroke-width="0.95"/>
<text x="43.4" y="267.04" text-anchor="end">0.4</text>
<line x1="48.1" y1="217.56" x2="52.1" y2="217.56" stroke="#000" stroke-width="0.95"/>
<text x="43.4" y="222.16" text-anchor="end">0.6</text>
<line x1="48.1" y1="172.68" x2="52.1" y2="172.68" stroke="#000" stroke-width="0.95"/>
<text x="43.4" y="177.28" text-anchor="end">0.8</text>
<line x1="48.1" y1="127.80" x2="52.1" y2="127.80" stroke="#000" stroke-width="0.95"/>
<text x="43.4" y="132.40" text-anchor="end">1.0</text>
<line x1="48.1" y1="82.92" x2="52.1" y2="82.92" stroke="#000" stroke-width="0.95"/>
<text x="43.4" y="87.52" text-anchor="end">1.2</text>
<line x1="48.1" y1="38.04" x2="52.1" y2="38.04" stroke="#000" stroke-width="0.95"/>
<text x="43.4" y="42.64" text-anchor="end">1.4</text>
<text x="52.9" y="11.8">1e9</text>
<text x="244" y="385.6" text-anchor="middle" style="font-size:11.95px">plasma current (kA)</text>
<text transform="translate(13.2,184.4) rotate(-90)" text-anchor="middle" style="font-size:11.95px">neutron yield</text>
<rect x="459.7" y="15.6" width="17.50" height="336.60" fill="url(#vg)" stroke="#000" stroke-width="0.95"/>
<line x1="477.2" y1="352.20" x2="481.2" y2="352.20" stroke="#000" stroke-width="0.95"/>
<text x="485.80" y="356.40">0</text>
<line x1="477.2" y1="314.80" x2="481.2" y2="314.80" stroke="#000" stroke-width="0.95"/>
<text x="485.80" y="319.00">2</text>
<line x1="477.2" y1="277.40" x2="481.2" y2="277.40" stroke="#000" stroke-width="0.95"/>
<text x="485.80" y="281.60">4</text>
<line x1="477.2" y1="240.00" x2="481.2" y2="240.00" stroke="#000" stroke-width="0.95"/>
<text x="485.80" y="244.20">6</text>
<line x1="477.2" y1="202.60" x2="481.2" y2="202.60" stroke="#000" stroke-width="0.95"/>
<text x="485.80" y="206.80">8</text>
<line x1="477.2" y1="165.20" x2="481.2" y2="165.20" stroke="#000" stroke-width="0.95"/>
<text x="485.80" y="169.40">10</text>
<line x1="477.2" y1="127.80" x2="481.2" y2="127.80" stroke="#000" stroke-width="0.95"/>
<text x="485.80" y="132.00">12</text>
<line x1="477.2" y1="90.40" x2="481.2" y2="90.40" stroke="#000" stroke-width="0.95"/>
<text x="485.80" y="94.60">14</text>
<line x1="477.2" y1="53.00" x2="481.2" y2="53.00" stroke="#000" stroke-width="0.95"/>
<text x="485.80" y="57.20">16</text>
<line x1="477.2" y1="15.60" x2="481.2" y2="15.60" stroke="#000" stroke-width="0.95"/>
<text x="485.80" y="19.80">18</text>
<text transform="translate(514.3,184) rotate(-90)" text-anchor="middle" style="font-size:11.95px">injected mass (mg)</text>
<g clip-path="url(#cb)">
<circle cx="141.8" cy="624.2" r="3.05" color="#33628d"/>
<circle cx="146.8" cy="541.1" r="3.05" color="#2e6d8e"/>
<circle cx="57.8" cy="618.4" r="3.05" color="#2b758e"/>
<circle cx="57.6" cy="540.3" r="3.05" color="#2f6b8e"/>
<circle cx="157.9" cy="559.4" r="3.05" color="#26828e"/>
<circle cx="280.4" cy="518.3" r="3.05" color="#2e6e8e"/>
<circle cx="128.1" cy="594.6" r="3.05" color="#46327e"/>
<circle cx="105.9" cy="548.9" r="3.05" color="#2d708e"/>
<circle cx="74.3" cy="569.5" r="3.05" color="#2b758e"/>
<circle cx="77.1" cy="626.4" r="3.05" color="#277e8e"/>
<circle cx="125.6" cy="560.4" r="3.05" color="#472f7d"/>
<circle cx="159.1" cy="610.8" r="3.05" color="#21918c"/>
<circle cx="210.3" cy="591.3" r="3.05" color="#21918c"/>
<circle cx="148.0" cy="660.0" r="3.05" color="#33628d"/>
<circle cx="83.5" cy="579.7" r="3.05" color="#31668e"/>
<circle cx="54.6" cy="622.8" r="3.05" color="#2b758e"/>
<circle cx="51.4" cy="640.1" r="3.05" color="#228c8d"/>
<circle cx="106.7" cy="600.5" r="3.05" color="#46327e"/>
<circle cx="196.8" cy="555.5" r="3.05" color="#39558c"/>
<circle cx="55.9" cy="559.0" r="3.05" color="#33628d"/>
<circle cx="141.0" cy="544.5" r="3.05" color="#277f8e"/>
<circle cx="121.1" cy="567.5" r="3.05" color="#2f6b8e"/>
<circle cx="180.3" cy="538.5" r="3.05" color="#33628d"/>
<circle cx="260.1" cy="539.8" r="3.05" color="#2f6b8e"/>
<circle cx="202.6" cy="527.9" r="3.05" color="#3d4d8a"/>
<circle cx="201.6" cy="540.4" r="3.05" color="#453581"/>
<circle cx="111.3" cy="667.0" r="3.05" color="#33628d"/>
<circle cx="183.1" cy="519.1" r="3.05" color="#31668e"/>
<circle cx="96.8" cy="582.1" r="3.05" color="#2c718e"/>
<circle cx="83.6" cy="718.6" r="3.05" color="#25ab82"/>
<circle cx="272.9" cy="516.4" r="3.05" color="#33638d"/>
<circle cx="95.5" cy="564.3" r="3.05" color="#2f6b8e"/>
<circle cx="56.2" cy="660.0" r="3.05" color="#26828e"/>
<circle cx="178.5" cy="552.3" r="3.05" color="#443983"/>
<circle cx="158.0" cy="523.4" r="3.05" color="#306a8e"/>
<circle cx="148.4" cy="630.3" r="3.05" color="#2e6f8e"/>
<circle cx="179.9" cy="579.2" r="3.05" color="#2b758e"/>
<circle cx="102.1" cy="568.5" r="3.05" color="#2f6b8e"/>
<circle cx="98.8" cy="547.4" r="3.05" color="#277f8e"/>
<circle cx="86.0" cy="522.7" r="3.05" color="#33628d"/>
<circle cx="68.6" cy="667.2" r="3.05" color="#218e8d"/>
<circle cx="154.3" cy="600.9" r="3.05" color="#33628d"/>
<circle cx="89.4" cy="563.6" r="3.05" color="#2f6b8e"/>
<circle cx="319.8" cy="493.1" r="3.05" color="#3d4d8a"/>
<circle cx="59.6" cy="549.2" r="3.05" color="#32658e"/>
<circle cx="323.5" cy="473.1" r="3.05" color="#31668e"/>
<circle cx="59.2" cy="651.7" r="3.05" color="#33628d"/>
<circle cx="75.5" cy="587.9" r="3.05" color="#33628d"/>
<circle cx="89.9" cy="597.8" r="3.05" color="#2f6b8e"/>
<circle cx="265.4" cy="558.7" r="3.05" color="#33628d"/>
<circle cx="75.9" cy="609.9" r="3.05" color="#2f6b8e"/>
<circle cx="192.6" cy="666.2" r="3.05" color="#33628d"/>
<circle cx="66.9" cy="599.2" r="3.05" color="#228b8d"/>
<circle cx="122.2" cy="550.9" r="3.05" color="#355e8d"/>
<circle cx="157.6" cy="536.7" r="3.05" color="#33628d"/>
<circle cx="396.9" cy="447.9" r="3.05" color="#33628d"/>
<circle cx="141.0" cy="538.7" r="3.05" color="#3b518b"/>
<circle cx="197.7" cy="521.7" r="3.05" color="#424086"/>
<circle cx="193.6" cy="560.1" r="3.05" color="#2f6b8e"/>
<circle cx="211.2" cy="548.2" r="3.05" color="#33628d"/>
<circle cx="94.8" cy="565.8" r="3.05" color="#3f4889"/>
<circle cx="154.8" cy="568.7" r="3.05" color="#46327e"/>
<circle cx="352.0" cy="481.7" r="3.05" color="#2f6b8e"/>
<circle cx="92.8" cy="605.2" r="3.05" color="#472f7d"/>
<circle cx="202.1" cy="556.5" r="3.05" color="#2f6b8e"/>
<circle cx="67.6" cy="602.1" r="3.05" color="#26828e"/>
<circle cx="202.7" cy="539.4" r="3.05" color="#2f6b8e"/>
<circle cx="60.6" cy="623.0" r="3.05" color="#2f6b8e"/>
<circle cx="128.5" cy="565.8" r="3.05" color="#46327e"/>
<circle cx="58.2" cy="632.9" r="3.05" color="#26828e"/>
<circle cx="126.1" cy="616.4" r="3.05" color="#33628d"/>
<circle cx="89.8" cy="624.2" r="3.05" color="#2f6b8e"/>
<circle cx="73.0" cy="649.4" r="3.05" color="#2f6b8e"/>
<circle cx="113.0" cy="583.9" r="3.05" color="#34608d"/>
<circle cx="161.2" cy="584.4" r="3.05" color="#2e6d8e"/>
<circle cx="70.1" cy="580.0" r="3.05" color="#2d708e"/>
<circle cx="151.3" cy="592.2" r="3.05" color="#2b758e"/>
<circle cx="63.4" cy="646.0" r="3.05" color="#26828e"/>
<circle cx="143.0" cy="556.5" r="3.05" color="#34608d"/>
<circle cx="223.2" cy="532.8" r="3.05" color="#3d4d8a"/>
<circle cx="202.7" cy="521.3" r="3.05" color="#33628d"/>
<circle cx="142.6" cy="535.9" r="3.05" color="#31678e"/>
<circle cx="254.0" cy="576.1" r="3.05" color="#33628d"/>
<circle cx="276.7" cy="536.1" r="3.05" color="#33628d"/>
<circle cx="187.8" cy="696.8" r="3.05" color="#33628d"/>
<circle cx="128.5" cy="587.9" r="3.05" color="#2b758e"/>
<circle cx="79.6" cy="567.0" r="3.05" color="#34608d"/>
<circle cx="83.6" cy="550.8" r="3.05" color="#2b758e"/>
<circle cx="66.7" cy="559.4" r="3.05" color="#3d4d8a"/>
<circle cx="152.1" cy="543.9" r="3.05" color="#33628d"/>
<circle cx="111.2" cy="634.2" r="3.05" color="#26828e"/>
<circle cx="173.4" cy="548.5" r="3.05" color="#472f7d"/>
<circle cx="62.6" cy="626.4" r="3.05" color="#1f988b"/>
<circle cx="165.1" cy="708.4" r="3.05" color="#33628d"/>
<circle cx="385.7" cy="441.4" r="3.05" color="#2f6b8e"/>
<circle cx="82.7" cy="603.0" r="3.05" color="#2f6b8e"/>
<circle cx="101.2" cy="606.1" r="3.05" color="#453882"/>
<circle cx="135.6" cy="608.2" r="3.05" color="#424186"/>
<circle cx="103.8" cy="545.5" r="3.05" color="#2f6b8e"/>
<circle cx="163.1" cy="647.0" r="3.05" color="#26828e"/>
<circle cx="150.8" cy="520.1" r="3.05" color="#33628d"/>
<circle cx="71.4" cy="543.6" r="3.05" color="#2f6b8e"/>
<circle cx="154.2" cy="535.3" r="3.05" color="#31668e"/>
<circle cx="236.9" cy="579.0" r="3.05" color="#3d4d8a"/>
<circle cx="120.3" cy="544.5" r="3.05" color="#23898e"/>
<circle cx="283.5" cy="541.8" r="3.05" color="#33628d"/>
<circle cx="214.9" cy="552.2" r="3.05" color="#2f6b8e"/>
<circle cx="65.3" cy="591.9" r="3.05" color="#287c8e"/>
<circle cx="105.5" cy="566.9" r="3.05" color="#2c718e"/>
<circle cx="338.8" cy="460.4" r="3.05" color="#33628d"/>
<circle cx="136.1" cy="581.6" r="3.05" color="#2f6b8e"/>
<circle cx="224.4" cy="551.1" r="3.05" color="#2a768e"/>
<circle cx="190.5" cy="530.2" r="3.05" color="#46327e"/>
<circle cx="170.6" cy="559.4" r="3.05" color="#33628d"/>
<circle cx="139.6" cy="520.1" r="3.05" color="#3d4d8a"/>
<circle cx="63.4" cy="666.1" r="3.05" color="#25848e"/>
<circle cx="338.6" cy="480.8" r="3.05" color="#33628d"/>
<circle cx="60.9" cy="569.4" r="3.05" color="#33638d"/>
<circle cx="129.6" cy="558.0" r="3.05" color="#38588c"/>
<circle cx="64.9" cy="676.3" r="3.05" color="#33628d"/>
<circle cx="81.8" cy="649.6" r="3.05" color="#1f988b"/>
<circle cx="163.6" cy="551.5" r="3.05" color="#32648e"/>
<circle cx="131.4" cy="646.2" r="3.05" color="#2f6b8e"/>
<circle cx="88.2" cy="642.5" r="3.05" color="#33628d"/>
<circle cx="130.8" cy="585.6" r="3.05" color="#228c8d"/>
<circle cx="62.8" cy="724.0" r="3.05" color="#21918c"/>
<circle cx="135.5" cy="576.6" r="3.05" color="#2c718e"/>
<circle cx="244.8" cy="527.7" r="3.05" color="#2f6b8e"/>
<circle cx="90.9" cy="596.0" r="3.05" color="#34608d"/>
<circle cx="223.9" cy="543.1" r="3.05" color="#414487"/>
<circle cx="108.7" cy="713.8" r="3.05" color="#21918c"/>
<circle cx="103.4" cy="555.0" r="3.05" color="#2b748e"/>
<circle cx="93.2" cy="617.1" r="3.05" color="#2f6b8e"/>
<circle cx="204.1" cy="541.9" r="3.05" color="#2a768e"/>
<circle cx="250.4" cy="579.3" r="3.05" color="#33628d"/>
<circle cx="84.1" cy="561.6" r="3.05" color="#3d4d8a"/>
<circle cx="136.9" cy="535.4" r="3.05" color="#2f6b8e"/>
<circle cx="241.0" cy="560.6" r="3.05" color="#33628d"/>
<circle cx="142.5" cy="558.5" r="3.05" color="#2f6b8e"/>
<circle cx="98.7" cy="581.9" r="3.05" color="#26828e"/>
<circle cx="153.0" cy="679.7" r="3.05" color="#33628d"/>
<circle cx="421.7" cy="446.1" r="3.05" color="#2f6b8e"/>
<circle cx="176.0" cy="576.3" r="3.05" color="#34608d"/>
<circle cx="116.5" cy="595.1" r="3.05" color="#443983"/>
<circle cx="80.8" cy="620.7" r="3.05" color="#1f9f88"/>
<circle cx="190.3" cy="533.5" r="3.05" color="#2c718e"/>
<circle cx="381.2" cy="473.3" r="3.05" color="#2f6b8e"/>
<circle cx="111.1" cy="533.6" r="3.05" color="#29798e"/>
<circle cx="416.1" cy="435.3" r="3.05" color="#2f6b8e"/>
<circle cx="154.8" cy="561.0" r="3.05" color="#46327e"/>
<circle cx="100.5" cy="546.8" r="3.05" color="#2f6b8e"/>
<circle cx="177.0" cy="602.2" r="3.05" color="#26828e"/>
<circle cx="64.8" cy="656.2" r="3.05" color="#2f6b8e"/>
<circle cx="74.8" cy="590.7" r="3.05" color="#2f6b8e"/>
<circle cx="55.4" cy="615.7" r="3.05" color="#26828e"/>
<circle cx="79.3" cy="560.8" r="3.05" color="#31688e"/>
<circle cx="81.7" cy="555.3" r="3.05" color="#30698e"/>
<circle cx="207.1" cy="523.9" r="3.05" color="#33628d"/>
<circle cx="141.8" cy="622.3" r="3.05" color="#25848e"/>
<circle cx="70.0" cy="656.9" r="3.05" color="#277e8e"/>
<circle cx="73.5" cy="612.2" r="3.05" color="#26828e"/>
<circle cx="86.4" cy="602.2" r="3.05" color="#2b748e"/>
<circle cx="137.3" cy="690.3" r="3.05" color="#21918c"/>
<circle cx="342.0" cy="471.4" r="3.05" color="#33628d"/>
<circle cx="423.4" cy="439.5" r="3.05" color="#2f6b8e"/>
<circle cx="181.9" cy="686.5" r="3.05" color="#33628d"/>
<circle cx="108.2" cy="597.7" r="3.05" color="#31668e"/>
<circle cx="150.0" cy="619.4" r="3.05" color="#355e8d"/>
<circle cx="256.2" cy="547.5" r="3.05" color="#33628d"/>
<circle cx="65.1" cy="636.7" r="3.05" color="#218e8d"/>
<circle cx="178.8" cy="638.8" r="3.05" color="#39558c"/>
<circle cx="127.6" cy="551.8" r="3.05" color="#2b758e"/>
<circle cx="82.8" cy="574.1" r="3.05" color="#2f6b8e"/>
<circle cx="67.1" cy="588.6" r="3.05" color="#424086"/>
<circle cx="257.6" cy="536.5" r="3.05" color="#2f6c8e"/>
<circle cx="215.2" cy="533.6" r="3.05" color="#433e85"/>
<circle cx="116.2" cy="604.1" r="3.05" color="#297b8e"/>
<circle cx="412.9" cy="457.4" r="3.05" color="#2f6b8e"/>
<circle cx="62.2" cy="557.1" r="3.05" color="#46337f"/>
<circle cx="171.7" cy="582.8" r="3.05" color="#31668e"/>
<circle cx="354.3" cy="465.6" r="3.05" color="#33628d"/>
<circle cx="203.6" cy="537.2" r="3.05" color="#306a8e"/>
<circle cx="213.5" cy="553.8" r="3.05" color="#30698e"/>
<circle cx="153.3" cy="535.2" r="3.05" color="#3d4d8a"/>
<circle cx="90.2" cy="541.4" r="3.05" color="#33628d"/>
<circle cx="200.9" cy="531.9" r="3.05" color="#443983"/>
<circle cx="97.3" cy="575.4" r="3.05" color="#355e8d"/>
<circle cx="159.7" cy="710.3" r="3.05" color="#21918c"/>
<circle cx="116.8" cy="641.7" r="3.05" color="#3d4d8a"/>
<circle cx="142.1" cy="527.8" r="3.05" color="#2f6b8e"/>
<circle cx="72.5" cy="622.7" r="3.05" color="#2b758e"/>
<circle cx="81.6" cy="575.2" r="3.05" color="#33628d"/>
<circle cx="188.3" cy="615.2" r="3.05" color="#46307e"/>
<circle cx="220.1" cy="554.1" r="3.05" color="#31678e"/>
<circle cx="131.7" cy="537.7" r="3.05" color="#463480"/>
<circle cx="73.5" cy="648.9" r="3.05" color="#228c8d"/>
<circle cx="81.3" cy="652.2" r="3.05" color="#26828e"/>
<circle cx="81.8" cy="649.4" r="3.05" color="#2d708e"/>
<circle cx="200.9" cy="543.4" r="3.05" color="#32648e"/>
<circle cx="71.5" cy="556.5" r="3.05" color="#287c8e"/>
<circle cx="145.3" cy="705.8" r="3.05" color="#21918c"/>
<circle cx="387.2" cy="463.9" r="3.05" color="#2f6b8e"/>
<circle cx="150.0" cy="623.8" r="3.05" color="#2f6b8e"/>
<circle cx="186.1" cy="543.4" r="3.05" color="#2e6d8e"/>
<circle cx="168.2" cy="530.1" r="3.05" color="#443983"/>
<circle cx="97.2" cy="570.4" r="3.05" color="#2d708e"/>
<circle cx="187.0" cy="535.3" r="3.05" color="#34608d"/>
<circle cx="73.7" cy="568.9" r="3.05" color="#38588c"/>
<circle cx="159.9" cy="724.4" r="3.05" color="#1f9e89"/>
<circle cx="67.9" cy="594.9" r="3.05" color="#24aa83"/>
<circle cx="66.8" cy="561.2" r="3.05" color="#29798e"/>
<circle cx="55.4" cy="631.9" r="3.05" color="#1f978b"/>
<circle cx="112.4" cy="625.5" r="3.05" color="#472f7d"/>
<circle cx="134.5" cy="555.7" r="3.05" color="#2f6b8e"/>
<circle cx="154.1" cy="632.4" r="3.05" color="#33628d"/>
<circle cx="257.4" cy="513.8" r="3.05" color="#443983"/>
<circle cx="179.7" cy="664.4" r="3.05" color="#33628d"/>
<circle cx="53.9" cy="637.4" r="3.05" color="#277f8e"/>
<circle cx="145.9" cy="585.8" r="3.05" color="#2f6c8e"/>
<circle cx="75.9" cy="565.5" r="3.05" color="#443983"/>
<circle cx="153.8" cy="686.7" r="3.05" color="#21918c"/>
<circle cx="239.2" cy="533.7" r="3.05" color="#33628d"/>
<circle cx="187.8" cy="535.6" r="3.05" color="#463480"/>
<circle cx="134.1" cy="634.7" r="3.05" color="#33628d"/>
<circle cx="327.5" cy="474.6" r="3.05" color="#33628d"/>
<circle cx="73.0" cy="568.7" r="3.05" color="#31688e"/>
<circle cx="176.2" cy="667.8" r="3.05" color="#33628d"/>
<circle cx="82.7" cy="579.6" r="3.05" color="#2b758e"/>
<circle cx="247.6" cy="524.7" r="3.05" color="#33628d"/>
<circle cx="196.4" cy="565.7" r="3.05" color="#2f6b8e"/>
<circle cx="129.1" cy="557.1" r="3.05" color="#33628d"/>
<circle cx="151.0" cy="556.1" r="3.05" color="#33628d"/>
<circle cx="79.9" cy="584.0" r="3.05" color="#32648e"/>
<circle cx="70.2" cy="666.1" r="3.05" color="#27ad81"/>
<circle cx="235.3" cy="527.6" r="3.05" color="#2e6f8e"/>
<circle cx="85.0" cy="557.3" r="3.05" color="#433e85"/>
<circle cx="166.4" cy="622.2" r="3.05" color="#2f6b8e"/>
<circle cx="172.5" cy="588.4" r="3.05" color="#33628d"/>
<circle cx="89.7" cy="671.7" r="3.05" color="#26828e"/>
<circle cx="87.7" cy="585.1" r="3.05" color="#2f6b8e"/>
<circle cx="137.9" cy="586.4" r="3.05" color="#306a8e"/>
<circle cx="70.5" cy="557.8" r="3.05" color="#2f6b8e"/>
<circle cx="329.1" cy="500.5" r="3.05" color="#2f6b8e"/>
<circle cx="65.0" cy="666.9" r="3.05" color="#2b758e"/>
<circle cx="254.1" cy="527.4" r="3.05" color="#33628d"/>
<circle cx="79.6" cy="558.6" r="3.05" color="#29798e"/>
<circle cx="324.3" cy="474.9" r="3.05" color="#31678e"/>
<circle cx="220.6" cy="556.3" r="3.05" color="#2b758e"/>
<circle cx="123.0" cy="551.8" r="3.05" color="#2c728e"/>
<circle cx="129.0" cy="541.4" r="3.05" color="#33628d"/>
<circle cx="188.2" cy="542.2" r="3.05" color="#46337f"/>
<circle cx="56.6" cy="760.4" r="3.05" color="#dae319"/>
<circle cx="73.5" cy="548.9" r="3.05" color="#2f6c8e"/>
<circle cx="183.4" cy="600.8" r="3.05" color="#218f8d"/>
<circle cx="290.7" cy="486.6" r="3.05" color="#2f6b8e"/>
<circle cx="111.4" cy="568.1" r="3.05" color="#2b758e"/>
<circle cx="355.5" cy="475.5" r="3.05" color="#33628d"/>
<circle cx="91.7" cy="559.6" r="3.05" color="#2f6b8e"/>
<circle cx="175.2" cy="661.4" r="3.05" color="#33628d"/>
<circle cx="214.4" cy="533.3" r="3.05" color="#33628d"/>
<circle cx="135.2" cy="540.5" r="3.05" color="#39558c"/>
<circle cx="106.0" cy="575.7" r="3.05" color="#3a538b"/>
<circle cx="148.0" cy="545.9" r="3.05" color="#2f6b8e"/>
<circle cx="414.7" cy="436.8" r="3.05" color="#31688e"/>
<circle cx="104.6" cy="576.9" r="3.05" color="#32658e"/>
<circle cx="266.9" cy="526.9" r="3.05" color="#33628d"/>
<circle cx="133.8" cy="538.5" r="3.05" color="#33628d"/>
<circle cx="127.9" cy="549.3" r="3.05" color="#33628d"/>
<circle cx="65.2" cy="738.3" r="3.05" color="#26828e"/>
<circle cx="76.9" cy="555.4" r="3.05" color="#29798e"/>
<circle cx="253.0" cy="516.3" r="3.05" color="#2f6c8e"/>
<circle cx="80.7" cy="535.5" r="3.05" color="#3d4d8a"/>
<circle cx="71.2" cy="647.3" r="3.05" color="#1f988b"/>
<circle cx="209.1" cy="552.2" r="3.05" color="#31678e"/>
<circle cx="240.5" cy="550.9" r="3.05" color="#3e4a89"/>
<circle cx="67.6" cy="568.2" r="3.05" color="#424186"/>
<circle cx="115.4" cy="558.6" r="3.05" color="#306a8e"/>
<circle cx="123.8" cy="633.0" r="3.05" color="#3d4d8a"/>
<circle cx="73.2" cy="552.0" r="3.05" color="#31668e"/>
<circle cx="151.1" cy="543.4" r="3.05" color="#463480"/>
<circle cx="135.6" cy="540.9" r="3.05" color="#2e6f8e"/>
<circle cx="96.0" cy="546.3" r="3.05" color="#25858e"/>
<circle cx="58.6" cy="551.0" r="3.05" color="#46327e"/>
<circle cx="63.3" cy="632.7" r="3.05" color="#1f958b"/>
<circle cx="205.3" cy="535.8" r="3.05" color="#46327e"/>
<circle cx="58.5" cy="609.1" r="3.05" color="#472f7d"/>
<circle cx="188.3" cy="596.4" r="3.05" color="#33628d"/>
<circle cx="129.8" cy="536.5" r="3.05" color="#1f978b"/>
<circle cx="244.3" cy="514.7" r="3.05" color="#33628d"/>
<circle cx="79.3" cy="579.7" r="3.05" color="#2d708e"/>
<circle cx="264.8" cy="537.9" r="3.05" color="#365c8d"/>
<circle cx="249.9" cy="547.5" r="3.05" color="#34608d"/>
<circle cx="91.1" cy="571.9" r="3.05" color="#365c8d"/>
<circle cx="165.6" cy="653.2" r="3.05" color="#33628d"/>
<circle cx="184.6" cy="550.0" r="3.05" color="#453882"/>
<circle cx="142.0" cy="616.7" r="3.05" color="#2f6c8e"/>
<circle cx="92.2" cy="608.8" r="3.05" color="#453581"/>
<circle cx="251.3" cy="511.4" r="3.05" color="#404688"/>
<circle cx="159.7" cy="544.7" r="3.05" color="#472a7a"/>
<circle cx="59.3" cy="619.4" r="3.05" color="#218e8d"/>
<circle cx="270.6" cy="514.0" r="3.05" color="#33628d"/>
<circle cx="208.6" cy="531.1" r="3.05" color="#33628d"/>
<circle cx="137.5" cy="524.7" r="3.05" color="#34608d"/>
<circle cx="104.8" cy="751.8" r="3.05" color="#26828e"/>
<circle cx="126.5" cy="640.9" r="3.05" color="#2f6b8e"/>
<circle cx="149.9" cy="533.6" r="3.05" color="#23898e"/>
<circle cx="170.9" cy="596.9" r="3.05" color="#2f6b8e"/>
<circle cx="70.9" cy="584.8" r="3.05" color="#375a8c"/>
<circle cx="78.6" cy="558.9" r="3.05" color="#2b758e"/>
<circle cx="105.8" cy="539.9" r="3.05" color="#33628d"/>
<circle cx="103.7" cy="550.8" r="3.05" color="#2b758e"/>
<circle cx="62.1" cy="552.5" r="3.05" color="#472f7d"/>
<circle cx="328.3" cy="508.6" r="3.05" color="#2b758e"/>
<circle cx="183.0" cy="602.8" r="3.05" color="#443b84"/>
<circle cx="114.7" cy="602.8" r="3.05" color="#33628d"/>
<circle cx="64.4" cy="554.2" r="3.05" color="#443b84"/>
<circle cx="72.9" cy="617.9" r="3.05" color="#228c8d"/>
<circle cx="161.8" cy="539.4" r="3.05" color="#443983"/>
<circle cx="158.4" cy="552.2" r="3.05" color="#33628d"/>
<circle cx="259.6" cy="528.6" r="3.05" color="#3f4889"/>
<circle cx="192.1" cy="542.8" r="3.05" color="#472f7d"/>
<circle cx="96.1" cy="670.7" r="3.05" color="#26828e"/>
<circle cx="60.8" cy="610.5" r="3.05" color="#2f6b8e"/>
<circle cx="167.7" cy="578.1" r="3.05" color="#433d84"/>
<circle cx="242.8" cy="541.3" r="3.05" color="#33628d"/>
<circle cx="238.8" cy="536.2" r="3.05" color="#2f6b8e"/>
<circle cx="135.4" cy="602.7" r="3.05" color="#33628d"/>
<circle cx="60.8" cy="572.4" r="3.05" color="#31688e"/>
<circle cx="66.1" cy="697.0" r="3.05" color="#3d4d8a"/>
<circle cx="122.0" cy="596.8" r="3.05" color="#472f7d"/>
<circle cx="170.1" cy="566.9" r="3.05" color="#2f6b8e"/>
<circle cx="111.8" cy="739.0" r="3.05" color="#3d4d8a"/>
<circle cx="77.7" cy="666.7" r="3.05" color="#25858e"/>
<circle cx="94.7" cy="579.0" r="3.05" color="#3f4889"/>
<circle cx="194.7" cy="526.1" r="3.05" color="#46327e"/>
<circle cx="233.9" cy="530.3" r="3.05" color="#3b518b"/>
<circle cx="107.4" cy="616.1" r="3.05" color="#3d4d8a"/>
<circle cx="178.2" cy="559.3" r="3.05" color="#33628d"/>
<circle cx="178.9" cy="593.6" r="3.05" color="#2f6b8e"/>
<circle cx="234.0" cy="541.1" r="3.05" color="#33628d"/>
<circle cx="54.4" cy="571.0" r="3.05" color="#1f9e89"/>
<circle cx="70.6" cy="560.9" r="3.05" color="#2e6e8e"/>
<circle cx="190.5" cy="522.8" r="3.05" color="#375a8c"/>
<circle cx="110.9" cy="686.0" r="3.05" color="#26828e"/>
<circle cx="171.1" cy="618.3" r="3.05" color="#32648e"/>
<circle cx="141.8" cy="572.1" r="3.05" color="#472f7d"/>
<circle cx="209.5" cy="540.6" r="3.05" color="#33628d"/>
<circle cx="97.4" cy="677.2" r="3.05" color="#33628d"/>
<circle cx="84.9" cy="628.5" r="3.05" color="#20928c"/>
<circle cx="182.8" cy="616.3" r="3.05" color="#306a8e"/>
<circle cx="71.0" cy="557.5" r="3.05" color="#30698e"/>
<circle cx="73.5" cy="566.9" r="3.05" color="#3a538b"/>
<circle cx="79.8" cy="639.7" r="3.05" color="#218f8d"/>
<circle cx="252.4" cy="541.0" r="3.05" color="#33628d"/>
<circle cx="66.2" cy="554.5" r="3.05" color="#46327e"/>
<circle cx="350.0" cy="474.1" r="3.05" color="#33628d"/>
<circle cx="330.6" cy="465.3" r="3.05" color="#33628d"/>
<circle cx="90.6" cy="577.7" r="3.05" color="#2b758e"/>
<circle cx="84.4" cy="596.0" r="3.05" color="#2b758e"/>
<circle cx="325.5" cy="481.8" r="3.05" color="#424186"/>
<circle cx="199.9" cy="537.1" r="3.05" color="#46337f"/>
<circle cx="428.2" cy="431.0" r="3.05" color="#2f6b8e"/>
<circle cx="160.5" cy="619.3" r="3.05" color="#3d4d8a"/>
<circle cx="62.6" cy="549.1" r="3.05" color="#443b84"/>
<circle cx="57.2" cy="613.7" r="3.05" color="#1e9b8a"/>
<circle cx="88.9" cy="550.8" r="3.05" color="#2f6b8e"/>
<circle cx="324.4" cy="486.2" r="3.05" color="#33628d"/>
<circle cx="177.2" cy="616.7" r="3.05" color="#463480"/>
<circle cx="119.0" cy="570.4" r="3.05" color="#2b758e"/>
<circle cx="216.4" cy="559.8" r="3.05" color="#463480"/>
<circle cx="61.5" cy="563.1" r="3.05" color="#32648e"/>
<circle cx="195.6" cy="528.6" r="3.05" color="#463480"/>
<circle cx="140.4" cy="655.1" r="3.05" color="#33628d"/>
<circle cx="104.0" cy="666.2" r="3.05" color="#26828e"/>
<circle cx="198.4" cy="547.9" r="3.05" color="#463480"/>
<circle cx="155.8" cy="645.5" r="3.05" color="#33628d"/>
<circle cx="108.0" cy="678.7" r="3.05" color="#33628d"/>
<circle cx="53.1" cy="640.7" r="3.05" color="#25858e"/>
<circle cx="261.8" cy="533.7" r="3.05" color="#33628d"/>
<circle cx="157.2" cy="615.2" r="3.05" color="#424186"/>
<circle cx="135.5" cy="591.9" r="3.05" color="#472f7d"/>
<circle cx="247.0" cy="536.9" r="3.05" color="#482979"/>
<circle cx="199.5" cy="550.5" r="3.05" color="#33628d"/>
<circle cx="128.2" cy="609.8" r="3.05" color="#2f6b8e"/>
<circle cx="81.5" cy="625.8" r="3.05" color="#26828e"/>
<circle cx="181.2" cy="558.0" r="3.05" color="#46307e"/>
<circle cx="72.1" cy="661.5" r="3.05" color="#2f6b8e"/>
<circle cx="85.3" cy="527.4" r="3.05" color="#2f6b8e"/>
<circle cx="57.7" cy="689.5" r="3.05" color="#26828e"/>
<circle cx="144.2" cy="614.0" r="3.05" color="#46327e"/>
<circle cx="220.9" cy="508.6" r="3.05" color="#33628d"/>
<circle cx="265.4" cy="559.9" r="3.05" color="#33628d"/>
<circle cx="240.5" cy="567.8" r="3.05" color="#33628d"/>
<circle cx="137.5" cy="551.8" r="3.05" color="#33638d"/>
<circle cx="118.2" cy="617.9" r="3.05" color="#472f7d"/>
<circle cx="203.4" cy="536.3" r="3.05" color="#2f6b8e"/>
<circle cx="56.6" cy="709.3" r="3.05" color="#26828e"/>
<circle cx="191.2" cy="549.4" r="3.05" color="#463480"/>
<circle cx="333.6" cy="481.0" r="3.05" color="#3d4d8a"/>
<circle cx="189.5" cy="554.2" r="3.05" color="#2a768e"/>
<circle cx="68.3" cy="632.0" r="3.05" color="#26828e"/>
<circle cx="137.2" cy="575.6" r="3.05" color="#30698e"/>
<circle cx="166.3" cy="538.3" r="3.05" color="#33628d"/>
<circle cx="77.7" cy="545.5" r="3.05" color="#2b748e"/>
<circle cx="136.5" cy="623.3" r="3.05" color="#365c8d"/>
<circle cx="262.4" cy="518.9" r="3.05" color="#33628d"/>
<circle cx="162.3" cy="560.7" r="3.05" color="#2f6b8e"/>
<circle cx="130.4" cy="563.2" r="3.05" color="#30698e"/>
<circle cx="80.3" cy="603.1" r="3.05" color="#25858e"/>
<circle cx="102.9" cy="616.5" r="3.05" color="#2f6b8e"/>
<circle cx="409.5" cy="443.2" r="3.05" color="#2f6b8e"/>
<circle cx="56.9" cy="570.9" r="3.05" color="#27808e"/>
<circle cx="56.9" cy="570.2" r="3.05" color="#2f6b8e"/>
<circle cx="125.9" cy="540.4" r="3.05" color="#33628d"/>
<circle cx="320.9" cy="461.5" r="3.05" color="#33628d"/>
<circle cx="134.5" cy="610.3" r="3.05" color="#33628d"/>
<circle cx="160.0" cy="596.1" r="3.05" color="#38588c"/>
<circle cx="104.5" cy="689.8" r="3.05" color="#21918c"/>
<circle cx="112.7" cy="596.0" r="3.05" color="#29798e"/>
<circle cx="86.1" cy="548.3" r="3.05" color="#306a8e"/>
<circle cx="170.9" cy="543.8" r="3.05" color="#433d84"/>
<circle cx="93.7" cy="547.8" r="3.05" color="#2b758e"/>
<circle cx="67.6" cy="617.2" r="3.05" color="#228b8d"/>
<circle cx="56.2" cy="638.6" r="3.05" color="#20928c"/>
<circle cx="209.6" cy="623.9" r="3.05" color="#21918c"/>
<circle cx="328.2" cy="483.8" r="3.05" color="#31668e"/>
<circle cx="201.1" cy="584.3" r="3.05" color="#21918c"/>
<circle cx="55.7" cy="667.6" r="3.05" color="#2f6b8e"/>
<circle cx="127.4" cy="569.4" r="3.05" color="#25858e"/>
<circle cx="139.0" cy="584.0" r="3.05" color="#39558c"/>
<circle cx="160.8" cy="632.2" r="3.05" color="#dae319"/>
<circle cx="186.5" cy="560.1" r="3.05" color="#2f6b8e"/>
<circle cx="104.0" cy="640.8" r="3.05" color="#21918c"/>
<circle cx="94.6" cy="553.3" r="3.05" color="#34608d"/>
<circle cx="247.5" cy="535.4" r="3.05" color="#33628d"/>
<circle cx="78.4" cy="555.6" r="3.05" color="#2e6e8e"/>
<circle cx="89.5" cy="706.5" r="3.05" color="#2f6b8e"/>
<circle cx="145.0" cy="565.3" r="3.05" color="#2c718e"/>
<circle cx="130.0" cy="553.4" r="3.05" color="#25848e"/>
<circle cx="119.4" cy="693.2" r="3.05" color="#3d4d8a"/>
<circle cx="99.2" cy="650.3" r="3.05" color="#26828e"/>
<circle cx="123.8" cy="556.0" r="3.05" color="#3c4f8a"/>
<circle cx="69.2" cy="598.6" r="3.05" color="#1f948c"/>
<circle cx="149.6" cy="548.0" r="3.05" color="#228c8d"/>
<circle cx="80.4" cy="624.6" r="3.05" color="#228b8d"/>
<circle cx="174.1" cy="626.6" r="3.05" color="#33628d"/>
<circle cx="118.9" cy="550.2" r="3.05" color="#375a8c"/>
<circle cx="192.4" cy="546.6" r="3.05" color="#30698e"/>
<circle cx="296.5" cy="508.0" r="3.05" color="#33628d"/>
<circle cx="192.9" cy="611.8" r="3.05" color="#33628d"/>
<circle cx="150.2" cy="605.5" r="3.05" color="#306a8e"/>
<circle cx="137.2" cy="620.6" r="3.05" color="#3e4a89"/>
<circle cx="181.1" cy="751.2" r="3.05" color="#33628d"/>
<circle cx="158.5" cy="616.4" r="3.05" color="#2f6b8e"/>
<circle cx="115.9" cy="606.7" r="3.05" color="#33638d"/>
<circle cx="175.0" cy="607.0" r="3.05" color="#33628d"/>
<circle cx="317.0" cy="517.2" r="3.05" color="#21918c"/>
<circle cx="161.9" cy="524.9" r="3.05" color="#453581"/>
<circle cx="234.5" cy="564.9" r="3.05" color="#33628d"/>
<circle cx="398.2" cy="438.1" r="3.05" color="#33628d"/>
<circle cx="174.8" cy="531.8" r="3.05" color="#3d4d8a"/>
<circle cx="259.2" cy="511.4" r="3.05" color="#33628d"/>
<circle cx="196.5" cy="519.3" r="3.05" color="#3c4f8a"/>
<circle cx="55.3" cy="621.0" r="3.05" color="#277f8e"/>
<circle cx="181.6" cy="590.2" r="3.05" color="#453882"/>
<circle cx="72.1" cy="620.5" r="3.05" color="#25858e"/>
<circle cx="116.2" cy="578.2" r="3.05" color="#33628d"/>
<circle cx="134.3" cy="612.8" r="3.05" color="#365c8d"/>
<circle cx="75.7" cy="550.6" r="3.05" color="#2f6b8e"/>
<circle cx="142.7" cy="550.7" r="3.05" color="#3a538b"/>
<circle cx="164.4" cy="549.0" r="3.05" color="#2f6b8e"/>
<circle cx="136.5" cy="605.0" r="3.05" color="#3a538b"/>
<circle cx="385.3" cy="457.0" r="3.05" color="#33628d"/>
<circle cx="151.2" cy="639.0" r="3.05" color="#33628d"/>
<circle cx="228.8" cy="525.1" r="3.05" color="#33628d"/>
<circle cx="84.5" cy="633.3" r="3.05" color="#21918c"/>
<circle cx="75.7" cy="631.4" r="3.05" color="#2c718e"/>
<circle cx="265.4" cy="543.1" r="3.05" color="#2f6b8e"/>
<circle cx="135.3" cy="567.2" r="3.05" color="#2c728e"/>
<circle cx="130.4" cy="526.1" r="3.05" color="#33628d"/>
<circle cx="58.0" cy="636.7" r="3.05" color="#277e8e"/>
<circle cx="154.0" cy="608.6" r="3.05" color="#2b758e"/>
<circle cx="230.4" cy="543.2" r="3.05" color="#33628d"/>
<circle cx="177.3" cy="645.4" r="3.05" color="#33628d"/>
<circle cx="185.7" cy="625.5" r="3.05" color="#39558c"/>
<circle cx="66.9" cy="612.4" r="3.05" color="#277e8e"/>
<circle cx="96.7" cy="631.7" r="3.05" color="#21918c"/>
<circle cx="151.2" cy="747.5" r="3.05" color="#21918c"/>
<circle cx="158.3" cy="583.0" r="3.05" color="#33628d"/>
<circle cx="80.8" cy="648.8" r="3.05" color="#2b758e"/>
<circle cx="162.9" cy="604.8" r="3.05" color="#dae319"/>
<circle cx="137.1" cy="568.0" r="3.05" color="#3b518b"/>
<circle cx="193.6" cy="593.1" r="3.05" color="#3f4889"/>
<circle cx="327.8" cy="476.3" r="3.05" color="#31668e"/>
<circle cx="254.1" cy="535.2" r="3.05" color="#46327e"/>
<circle cx="166.8" cy="543.7" r="3.05" color="#2f6b8e"/>
<circle cx="299.2" cy="506.2" r="3.05" color="#33628d"/>
<circle cx="215.0" cy="565.6" r="3.05" color="#21918c"/>
<circle cx="135.5" cy="532.4" r="3.05" color="#463480"/>
<circle cx="75.4" cy="668.6" r="3.05" color="#33628d"/>
<circle cx="101.4" cy="582.6" r="3.05" color="#2e6d8e"/>
<circle cx="176.5" cy="652.3" r="3.05" color="#33628d"/>
<circle cx="247.8" cy="531.8" r="3.05" color="#355e8d"/>
<circle cx="184.0" cy="579.9" r="3.05" color="#472f7d"/>
<circle cx="91.3" cy="595.1" r="3.05" color="#2e6d8e"/>
<circle cx="123.6" cy="720.7" r="3.05" color="#463480"/>
<circle cx="217.2" cy="540.2" r="3.05" color="#33628d"/>
<circle cx="394.7" cy="443.1" r="3.05" color="#33628d"/>
<circle cx="404.1" cy="441.9" r="3.05" color="#31688e"/>
<circle cx="216.0" cy="526.0" r="3.05" color="#463480"/>
<circle cx="199.7" cy="539.5" r="3.05" color="#306a8e"/>
<circle cx="209.7" cy="513.3" r="3.05" color="#33628d"/>
<circle cx="222.5" cy="551.5" r="3.05" color="#2a768e"/>
<circle cx="163.8" cy="625.7" r="3.05" color="#33628d"/>
<circle cx="220.8" cy="525.5" r="3.05" color="#33628d"/>
<circle cx="78.4" cy="648.1" r="3.05" color="#25858e"/>
<circle cx="142.6" cy="584.0" r="3.05" color="#2f6b8e"/>
<circle cx="65.4" cy="539.8" r="3.05" color="#2f6b8e"/>
<circle cx="285.5" cy="474.2" r="3.05" color="#463480"/>
<circle cx="83.2" cy="641.8" r="3.05" color="#2f6b8e"/>
<circle cx="205.4" cy="533.7" r="3.05" color="#2c728e"/>
<circle cx="121.1" cy="546.7" r="3.05" color="#33628d"/>
<circle cx="135.7" cy="597.3" r="3.05" color="#277e8e"/>
<circle cx="333.4" cy="480.0" r="3.05" color="#31668e"/>
<circle cx="79.7" cy="653.3" r="3.05" color="#277f8e"/>
<circle cx="74.9" cy="542.6" r="3.05" color="#2e6e8e"/>
<circle cx="219.1" cy="561.8" r="3.05" color="#443983"/>
<circle cx="70.0" cy="524.0" r="3.05" color="#2f6b8e"/>
<circle cx="113.7" cy="648.4" r="3.05" color="#3d4d8a"/>
<circle cx="56.6" cy="590.8" r="3.05" color="#2f6b8e"/>
<circle cx="59.2" cy="642.8" r="3.05" color="#1f9f88"/>
<circle cx="193.1" cy="547.7" r="3.05" color="#472f7d"/>
<circle cx="80.6" cy="587.6" r="3.05" color="#2f6b8e"/>
<circle cx="73.9" cy="605.8" r="3.05" color="#25848e"/>
<circle cx="250.9" cy="567.4" r="3.05" color="#33628d"/>
<circle cx="88.6" cy="587.3" r="3.05" color="#2f6b8e"/>
<circle cx="127.2" cy="521.2" r="3.05" color="#2f6b8e"/>
<circle cx="197.8" cy="533.1" r="3.05" color="#46327e"/>
<circle cx="343.8" cy="483.6" r="3.05" color="#3d4d8a"/>
<circle cx="197.2" cy="541.2" r="3.05" color="#472f7d"/>
<circle cx="123.5" cy="568.7" r="3.05" color="#2a768e"/>
<circle cx="313.3" cy="473.0" r="3.05" color="#443983"/>
<circle cx="118.2" cy="551.6" r="3.05" color="#2e6d8e"/>
<circle cx="95.7" cy="590.6" r="3.05" color="#2c718e"/>
<circle cx="186.8" cy="680.5" r="3.05" color="#33628d"/>
<circle cx="58.1" cy="650.8" r="3.05" color="#27808e"/>
<circle cx="172.4" cy="583.8" r="3.05" color="#33628d"/>
<circle cx="134.3" cy="546.0" r="3.05" color="#2c718e"/>
<circle cx="157.2" cy="521.5" r="3.05" color="#3a538b"/>
<circle cx="54.3" cy="616.6" r="3.05" color="#277e8e"/>
<circle cx="336.7" cy="466.7" r="3.05" color="#33628d"/>
<circle cx="144.0" cy="639.7" r="3.05" color="#33628d"/>
<circle cx="55.7" cy="617.6" r="3.05" color="#2f6b8e"/>
<circle cx="115.2" cy="530.4" r="3.05" color="#2f6b8e"/>
<circle cx="146.9" cy="568.7" r="3.05" color="#2f6b8e"/>
<circle cx="179.4" cy="561.1" r="3.05" color="#31678e"/>
<circle cx="311.7" cy="513.7" r="3.05" color="#2b758e"/>
<circle cx="80.3" cy="523.9" r="3.05" color="#2f6b8e"/>
<circle cx="195.4" cy="542.2" r="3.05" color="#46337f"/>
<circle cx="62.0" cy="648.9" r="3.05" color="#24878e"/>
<circle cx="202.2" cy="523.5" r="3.05" color="#306a8e"/>
<circle cx="140.1" cy="550.6" r="3.05" color="#463480"/>
<circle cx="71.9" cy="602.4" r="3.05" color="#2f6b8e"/>
<circle cx="91.3" cy="613.3" r="3.05" color="#39558c"/>
<circle cx="72.1" cy="628.0" r="3.05" color="#218e8d"/>
<circle cx="105.6" cy="566.1" r="3.05" color="#2b758e"/>
<circle cx="161.1" cy="679.2" r="3.05" color="#2f6b8e"/>
<circle cx="199.0" cy="521.0" r="3.05" color="#25858e"/>
<circle cx="77.8" cy="647.0" r="3.05" color="#25848e"/>
<circle cx="144.5" cy="603.7" r="3.05" color="#46327e"/>
<circle cx="199.8" cy="528.6" r="3.05" color="#463480"/>
<circle cx="216.1" cy="547.9" r="3.05" color="#2d708e"/>
<circle cx="170.8" cy="632.9" r="3.05" color="#33628d"/>
<circle cx="105.8" cy="589.3" r="3.05" color="#2f6b8e"/>
<circle cx="66.3" cy="673.2" r="3.05" color="#228b8d"/>
<circle cx="115.1" cy="562.9" r="3.05" color="#2a768e"/>
<circle cx="63.4" cy="640.6" r="3.05" color="#26828e"/>
<circle cx="182.6" cy="648.0" r="3.05" color="#33628d"/>
<circle cx="78.1" cy="543.7" r="3.05" color="#2b758e"/>
<circle cx="128.7" cy="557.2" r="3.05" color="#2f6c8e"/>
<circle cx="314.2" cy="488.1" r="3.05" color="#443983"/>
<circle cx="131.5" cy="548.7" r="3.05" color="#375a8c"/>
<circle cx="159.6" cy="539.9" r="3.05" color="#2f6b8e"/>
<circle cx="139.0" cy="526.3" r="3.05" color="#365c8d"/>
<circle cx="216.7" cy="579.8" r="3.05" color="#33628d"/>
<circle cx="58.4" cy="615.7" r="3.05" color="#25858e"/>
<circle cx="227.0" cy="528.3" r="3.05" color="#433d84"/>
<circle cx="111.6" cy="549.8" r="3.05" color="#2b758e"/>
<circle cx="128.1" cy="628.1" r="3.05" color="#33628d"/>
<circle cx="180.5" cy="628.9" r="3.05" color="#33628d"/>
<circle cx="186.4" cy="550.1" r="3.05" color="#33628d"/>
<circle cx="80.3" cy="625.1" r="3.05" color="#26828e"/>
<circle cx="160.8" cy="578.1" r="3.05" color="#2c728e"/>
<circle cx="101.9" cy="603.7" r="3.05" color="#33628d"/>
<circle cx="133.1" cy="527.0" r="3.05" color="#2f6b8e"/>
<circle cx="78.7" cy="650.1" r="3.05" color="#287c8e"/>
<circle cx="213.7" cy="524.0" r="3.05" color="#33628d"/>
<circle cx="235.8" cy="545.4" r="3.05" color="#443983"/>
<circle cx="149.6" cy="584.7" r="3.05" color="#2e6e8e"/>
<circle cx="84.9" cy="595.8" r="3.05" color="#306a8e"/>
<circle cx="145.7" cy="540.3" r="3.05" color="#33628d"/>
<circle cx="183.2" cy="543.9" r="3.05" color="#3c4f8a"/>
<circle cx="211.8" cy="536.6" r="3.05" color="#34608d"/>
<circle cx="120.3" cy="586.5" r="3.05" color="#30698e"/>
<circle cx="404.9" cy="442.0" r="3.05" color="#355e8d"/>
<circle cx="54.0" cy="575.8" r="3.05" color="#375a8c"/>
<circle cx="261.7" cy="543.8" r="3.05" color="#33628d"/>
<circle cx="60.3" cy="751.4" r="3.05" color="#26828e"/>
<circle cx="78.2" cy="657.0" r="3.05" color="#228b8d"/>
<circle cx="71.4" cy="607.9" r="3.05" color="#218e8d"/>
<circle cx="147.6" cy="520.0" r="3.05" color="#32658e"/>
<circle cx="165.4" cy="640.7" r="3.05" color="#33628d"/>
<circle cx="91.5" cy="558.9" r="3.05" color="#32648e"/>
<circle cx="173.1" cy="533.1" r="3.05" color="#433d84"/>
<circle cx="136.5" cy="535.3" r="3.05" color="#355e8d"/>
<circle cx="108.3" cy="550.1" r="3.05" color="#31668e"/>
<circle cx="102.8" cy="561.5" r="3.05" color="#2c718e"/>
<circle cx="175.1" cy="616.3" r="3.05" color="#33628d"/>
<circle cx="149.7" cy="533.4" r="3.05" color="#33628d"/>
<circle cx="76.6" cy="585.4" r="3.05" color="#32658e"/>
<circle cx="199.1" cy="570.1" r="3.05" color="#33628d"/>
<circle cx="414.8" cy="435.5" r="3.05" color="#2f6b8e"/>
<circle cx="124.1" cy="566.6" r="3.05" color="#2c728e"/>
<circle cx="303.3" cy="505.2" r="3.05" color="#33628d"/>
<circle cx="105.4" cy="624.6" r="3.05" color="#46327e"/>
<circle cx="331.4" cy="484.3" r="3.05" color="#365c8d"/>
<circle cx="222.8" cy="534.4" r="3.05" color="#31678e"/>
<circle cx="185.7" cy="541.1" r="3.05" color="#3d4d8a"/>
<circle cx="114.4" cy="635.0" r="3.05" color="#33628d"/>
<circle cx="139.8" cy="535.6" r="3.05" color="#33628d"/>
<circle cx="158.5" cy="530.2" r="3.05" color="#33628d"/>
<circle cx="109.0" cy="621.7" r="3.05" color="#46337f"/>
<circle cx="125.8" cy="586.9" r="3.05" color="#32648e"/>
<circle cx="389.7" cy="447.4" r="3.05" color="#2f6b8e"/>
<circle cx="80.2" cy="544.6" r="3.05" color="#3a538b"/>
<circle cx="138.3" cy="567.3" r="3.05" color="#33628d"/>
<circle cx="113.1" cy="622.0" r="3.05" color="#2f6b8e"/>
<circle cx="164.7" cy="554.7" r="3.05" color="#33638d"/>
<circle cx="95.7" cy="555.7" r="3.05" color="#2e6e8e"/>
<circle cx="220.8" cy="513.3" r="3.05" color="#33628d"/>
<circle cx="120.7" cy="608.8" r="3.05" color="#463480"/>
<circle cx="127.1" cy="664.4" r="3.05" color="#3d4d8a"/>
<circle cx="93.5" cy="575.5" r="3.05" color="#287c8e"/>
<circle cx="77.8" cy="570.1" r="3.05" color="#2f6c8e"/>
<circle cx="56.7" cy="580.9" r="3.05" color="#2f6b8e"/>
<circle cx="72.3" cy="600.6" r="3.05" color="#277e8e"/>
<circle cx="66.4" cy="665.0" r="3.05" color="#21918c"/>
<circle cx="80.6" cy="644.0" r="3.05" color="#27808e"/>
<circle cx="148.3" cy="543.6" r="3.05" color="#375a8c"/>
<circle cx="212.7" cy="536.5" r="3.05" color="#38588c"/>
<circle cx="199.3" cy="547.9" r="3.05" color="#3a538b"/>
<circle cx="86.7" cy="618.9" r="3.05" color="#2f6b8e"/>
<circle cx="156.2" cy="560.3" r="3.05" color="#3b518b"/>
<circle cx="55.4" cy="578.0" r="3.05" color="#355e8d"/>
<circle cx="233.6" cy="547.8" r="3.05" color="#31668e"/>
<circle cx="102.6" cy="560.2" r="3.05" color="#2b758e"/>
<circle cx="68.3" cy="608.9" r="3.05" color="#2f6b8e"/>
<circle cx="152.0" cy="559.4" r="3.05" color="#404688"/>
<circle cx="72.0" cy="624.4" r="3.05" color="#228b8d"/>
<circle cx="196.3" cy="540.2" r="3.05" color="#463480"/>
<circle cx="112.3" cy="690.9" r="3.05" color="#26828e"/>
<circle cx="95.8" cy="569.8" r="3.05" color="#2b758e"/>
<circle cx="69.4" cy="546.5" r="3.05" color="#2f6c8e"/>
<circle cx="107.1" cy="553.3" r="3.05" color="#2b748e"/>
<circle cx="271.9" cy="512.7" r="3.05" color="#38588c"/>
<circle cx="54.8" cy="599.7" r="3.05" color="#33628d"/>
<circle cx="56.7" cy="641.3" r="3.05" color="#26828e"/>
<circle cx="145.5" cy="596.9" r="3.05" color="#31678e"/>
<circle cx="191.2" cy="526.8" r="3.05" color="#46327e"/>
<circle cx="61.8" cy="595.9" r="3.05" color="#228b8d"/>
<circle cx="55.7" cy="622.4" r="3.05" color="#1f958b"/>
<circle cx="66.8" cy="592.3" r="3.05" color="#27808e"/>
<circle cx="259.2" cy="523.3" r="3.05" color="#433d84"/>
<circle cx="120.6" cy="549.1" r="3.05" color="#2f6b8e"/>
<circle cx="118.7" cy="623.3" r="3.05" color="#443983"/>
<circle cx="81.7" cy="654.5" r="3.05" color="#26828e"/>
<circle cx="150.8" cy="549.8" r="3.05" color="#29798e"/>
<circle cx="187.6" cy="591.0" r="3.05" color="#443983"/>
<circle cx="98.4" cy="607.1" r="3.05" color="#472f7d"/>
<circle cx="131.4" cy="561.1" r="3.05" color="#2f6c8e"/>
<circle cx="54.9" cy="636.9" r="3.05" color="#26828e"/>
<circle cx="63.9" cy="580.4" r="3.05" color="#297b8e"/>
<circle cx="136.1" cy="555.1" r="3.05" color="#2a788e"/>
<circle cx="246.8" cy="539.2" r="3.05" color="#443983"/>
<circle cx="64.1" cy="653.1" r="3.05" color="#26828e"/>
<circle cx="111.2" cy="617.1" r="3.05" color="#2f6b8e"/>
<circle cx="160.0" cy="754.0" r="3.05" color="#26828e"/>
<circle cx="56.9" cy="675.3" r="3.05" color="#33628d"/>
<circle cx="86.6" cy="566.2" r="3.05" color="#472f7d"/>
<circle cx="191.9" cy="550.7" r="3.05" color="#433d84"/>
<circle cx="149.5" cy="608.2" r="3.05" color="#2d708e"/>
<circle cx="189.8" cy="535.9" r="3.05" color="#472f7d"/>
<circle cx="166.1" cy="598.8" r="3.05" color="#453882"/>
<circle cx="174.4" cy="513.2" r="3.05" color="#3d4d8a"/>
<circle cx="119.2" cy="555.7" r="3.05" color="#2b758e"/>
<circle cx="113.7" cy="564.5" r="3.05" color="#2f6b8e"/>
<circle cx="132.2" cy="570.8" r="3.05" color="#277e8e"/>
<circle cx="235.8" cy="530.2" r="3.05" color="#3a538b"/>
<circle cx="75.8" cy="630.5" r="3.05" color="#21918c"/>
<circle cx="96.2" cy="553.6" r="3.05" color="#31678e"/>
<circle cx="80.8" cy="578.7" r="3.05" color="#26828e"/>
<circle cx="65.3" cy="616.5" r="3.05" color="#21918c"/>
<circle cx="325.5" cy="466.9" r="3.05" color="#365c8d"/>
<circle cx="92.1" cy="526.3" r="3.05" color="#33628d"/>
<circle cx="115.6" cy="571.6" r="3.05" color="#2f6b8e"/>
<circle cx="321.7" cy="481.7" r="3.05" color="#33628d"/>
<circle cx="227.7" cy="517.6" r="3.05" color="#33628d"/>
<circle cx="221.9" cy="540.0" r="3.05" color="#33628d"/>
<circle cx="264.5" cy="514.9" r="3.05" color="#33628d"/>
<circle cx="105.0" cy="700.0" r="3.05" color="#21918c"/>
<circle cx="205.4" cy="536.7" r="3.05" color="#31678e"/>
<circle cx="124.0" cy="524.2" r="3.05" color="#32648e"/>
<circle cx="268.5" cy="538.5" r="3.05" color="#33628d"/>
<circle cx="66.9" cy="651.2" r="3.05" color="#27808e"/>
<circle cx="134.9" cy="615.0" r="3.05" color="#38588c"/>
<circle cx="201.1" cy="514.7" r="3.05" color="#33628d"/>
<circle cx="205.1" cy="545.4" r="3.05" color="#32648e"/>
<circle cx="170.3" cy="583.5" r="3.05" color="#2e6d8e"/>
<circle cx="145.5" cy="534.3" r="3.05" color="#2f6b8e"/>
<circle cx="243.3" cy="532.8" r="3.05" color="#3a538b"/>
<circle cx="183.8" cy="544.2" r="3.05" color="#2e6e8e"/>
<circle cx="159.1" cy="529.3" r="3.05" color="#453882"/>
<circle cx="80.5" cy="578.8" r="3.05" color="#38588c"/>
<circle cx="112.2" cy="577.3" r="3.05" color="#25858e"/>
<circle cx="111.0" cy="611.5" r="3.05" color="#463480"/>
<circle cx="205.2" cy="529.8" r="3.05" color="#424186"/>
<circle cx="156.0" cy="585.8" r="3.05" color="#375a8c"/>
<circle cx="191.3" cy="515.0" r="3.05" color="#33628d"/>
<circle cx="287.7" cy="510.5" r="3.05" color="#3d4d8a"/>
<circle cx="99.5" cy="535.1" r="3.05" color="#443983"/>
<circle cx="60.1" cy="657.5" r="3.05" color="#2e6e8e"/>
<circle cx="62.7" cy="703.2" r="3.05" color="#26828e"/>
<circle cx="138.5" cy="594.4" r="3.05" color="#30698e"/>
<circle cx="164.8" cy="534.9" r="3.05" color="#472e7c"/>
<circle cx="176.6" cy="553.8" r="3.05" color="#375a8c"/>
<circle cx="212.0" cy="510.5" r="3.05" color="#33628d"/>
<circle cx="236.4" cy="523.6" r="3.05" color="#33628d"/>
<circle cx="69.2" cy="695.6" r="3.05" color="#33628d"/>
<circle cx="96.9" cy="571.5" r="3.05" color="#306a8e"/>
<circle cx="283.1" cy="506.7" r="3.05" color="#443983"/>
<circle cx="95.0" cy="564.4" r="3.05" color="#31688e"/>
<circle cx="167.5" cy="527.4" r="3.05" color="#414487"/>
<circle cx="123.0" cy="605.9" r="3.05" color="#3d4d8a"/>
<circle cx="92.3" cy="564.7" r="3.05" color="#277f8e"/>
<circle cx="323.3" cy="507.8" r="3.05" color="#23898e"/>
<circle cx="133.0" cy="531.4" r="3.05" color="#375a8c"/>
<circle cx="144.8" cy="699.7" r="3.05" color="#33628d"/>
<circle cx="155.6" cy="671.4" r="3.05" color="#2b758e"/>
<circle cx="146.7" cy="573.5" r="3.05" color="#21918c"/>
<circle cx="52.2" cy="619.6" r="3.05" color="#27808e"/>
<circle cx="66.2" cy="598.3" r="3.05" color="#20928c"/>
<circle cx="348.0" cy="464.1" r="3.05" color="#3d4d8a"/>
<circle cx="142.6" cy="661.6" r="3.05" color="#33628d"/>
<circle cx="228.8" cy="554.2" r="3.05" color="#33628d"/>
<circle cx="139.3" cy="545.9" r="3.05" color="#472f7d"/>
<circle cx="135.2" cy="568.7" r="3.05" color="#2f6b8e"/>
<circle cx="97.2" cy="575.6" r="3.05" color="#3a538b"/>
<circle cx="323.6" cy="474.4" r="3.05" color="#3c4f8a"/>
<circle cx="377.9" cy="470.9" r="3.05" color="#2f6b8e"/>
<circle cx="215.7" cy="540.2" r="3.05" color="#33628d"/>
<circle cx="64.7" cy="573.4" r="3.05" color="#433d84"/>
<circle cx="193.5" cy="598.0" r="3.05" color="#472d7b"/>
<circle cx="154.8" cy="625.6" r="3.05" color="#3b518b"/>
<circle cx="116.6" cy="564.5" r="3.05" color="#27808e"/>
<circle cx="178.0" cy="561.3" r="3.05" color="#2f6b8e"/>
<circle cx="268.9" cy="519.2" r="3.05" color="#33628d"/>
<circle cx="161.3" cy="531.7" r="3.05" color="#24878e"/>
<circle cx="145.0" cy="587.4" r="3.05" color="#2c728e"/>
<circle cx="97.3" cy="703.6" r="3.05" color="#26828e"/>
<circle cx="344.4" cy="458.0" r="3.05" color="#3d4d8a"/>
<circle cx="185.9" cy="668.4" r="3.05" color="#33628d"/>
<circle cx="98.0" cy="559.9" r="3.05" color="#31678e"/>
<circle cx="358.9" cy="473.0" r="3.05" color="#33628d"/>
<circle cx="407.3" cy="430.3" r="3.05" color="#2f6b8e"/>
<circle cx="201.1" cy="529.4" r="3.05" color="#453581"/>
<circle cx="233.0" cy="534.5" r="3.05" color="#33628d"/>
<circle cx="158.2" cy="555.4" r="3.05" color="#39558c"/>
<circle cx="172.1" cy="540.8" r="3.05" color="#472d7b"/>
<circle cx="174.7" cy="601.7" r="3.05" color="#38588c"/>
<circle cx="241.2" cy="514.1" r="3.05" color="#33628d"/>
<circle cx="340.3" cy="478.5" r="3.05" color="#33628d"/>
<circle cx="76.0" cy="613.6" r="3.05" color="#228c8d"/>
<circle cx="74.3" cy="540.4" r="3.05" color="#27808e"/>
<circle cx="257.2" cy="553.8" r="3.05" color="#33628d"/>
<circle cx="271.3" cy="508.1" r="3.05" color="#33628d"/>
<circle cx="236.8" cy="528.5" r="3.05" color="#33638d"/>
<circle cx="134.7" cy="576.1" r="3.05" color="#34608d"/>
<circle cx="123.4" cy="541.1" r="3.05" color="#2f6b8e"/>
<circle cx="73.6" cy="659.2" r="3.05" color="#26828e"/>
<circle cx="81.7" cy="588.7" r="3.05" color="#2c728e"/>
<circle cx="128.1" cy="529.8" r="3.05" color="#453882"/>
<circle cx="94.8" cy="596.3" r="3.05" color="#2e6d8e"/>
<circle cx="192.3" cy="578.0" r="3.05" color="#2b758e"/>
<circle cx="66.6" cy="592.1" r="3.05" color="#46327e"/>
<circle cx="134.8" cy="545.5" r="3.05" color="#2f6b8e"/>
<circle cx="186.4" cy="568.7" r="3.05" color="#33628d"/>
<circle cx="151.7" cy="698.9" r="3.05" color="#33628d"/>
<circle cx="144.5" cy="532.9" r="3.05" color="#365c8d"/>
<circle cx="88.4" cy="579.6" r="3.05" color="#2e6e8e"/>
<circle cx="195.7" cy="545.8" r="3.05" color="#355e8d"/>
<circle cx="334.8" cy="472.8" r="3.05" color="#33628d"/>
<circle cx="106.1" cy="556.3" r="3.05" color="#297b8e"/>
<circle cx="205.4" cy="548.6" r="3.05" color="#2f6b8e"/>
<circle cx="67.2" cy="634.1" r="3.05" color="#26828e"/>
<circle cx="124.4" cy="590.2" r="3.05" color="#355e8d"/>
<circle cx="64.9" cy="649.6" r="3.05" color="#33628d"/>
<circle cx="169.3" cy="623.1" r="3.05" color="#33628d"/>
<circle cx="208.2" cy="559.5" r="3.05" color="#2f6b8e"/>
<circle cx="198.7" cy="543.2" r="3.05" color="#46327e"/>
<circle cx="71.2" cy="623.1" r="3.05" color="#24878e"/>
<circle cx="62.7" cy="557.3" r="3.05" color="#2b748e"/>
<circle cx="93.3" cy="615.9" r="3.05" color="#375a8c"/>
<circle cx="229.3" cy="553.0" r="3.05" color="#453882"/>
<circle cx="182.4" cy="638.7" r="3.05" color="#33628d"/>
<circle cx="207.9" cy="567.7" r="3.05" color="#2f6b8e"/>
<circle cx="207.4" cy="571.9" r="3.05" color="#33628d"/>
<circle cx="104.4" cy="543.6" r="3.05" color="#33638d"/>
<circle cx="197.8" cy="508.8" r="3.05" color="#33628d"/>
<circle cx="168.7" cy="546.1" r="3.05" color="#306a8e"/>
<circle cx="118.0" cy="620.6" r="3.05" color="#443983"/>
<circle cx="164.4" cy="579.5" r="3.05" color="#443983"/>
<circle cx="144.5" cy="569.3" r="3.05" color="#2c728e"/>
<circle cx="339.9" cy="471.2" r="3.05" color="#365c8d"/>
<circle cx="81.1" cy="572.8" r="3.05" color="#31668e"/>
<circle cx="188.2" cy="526.7" r="3.05" color="#2f6b8e"/>
<circle cx="390.3" cy="439.4" r="3.05" color="#2f6b8e"/>
<circle cx="293.0" cy="502.5" r="3.05" color="#33628d"/>
<circle cx="198.9" cy="542.9" r="3.05" color="#33628d"/>
<circle cx="137.7" cy="585.7" r="3.05" color="#32658e"/>
<circle cx="191.3" cy="547.3" r="3.05" color="#453581"/>
<circle cx="66.4" cy="584.0" r="3.05" color="#472f7d"/>
<circle cx="70.7" cy="541.4" r="3.05" color="#424086"/>
<circle cx="66.6" cy="570.5" r="3.05" color="#2f6b8e"/>
<circle cx="142.4" cy="587.2" r="3.05" color="#1f9e89"/>
<circle cx="189.1" cy="527.9" r="3.05" color="#472f7d"/>
<circle cx="134.2" cy="642.4" r="3.05" color="#33628d"/>
<circle cx="112.2" cy="604.2" r="3.05" color="#443983"/>
<circle cx="146.9" cy="519.8" r="3.05" color="#33628d"/>
<circle cx="248.7" cy="518.8" r="3.05" color="#33628d"/>
<circle cx="148.0" cy="676.4" r="3.05" color="#33628d"/>
<circle cx="173.4" cy="586.5" r="3.05" color="#355e8d"/>
<circle cx="156.6" cy="536.0" r="3.05" color="#33628d"/>
<circle cx="147.7" cy="604.6" r="3.05" color="#3e4a89"/>
<circle cx="156.7" cy="676.5" r="3.05" color="#2b758e"/>
<circle cx="72.0" cy="721.3" r="3.05" color="#3d4d8a"/>
<circle cx="127.1" cy="621.7" r="3.05" color="#33628d"/>
<circle cx="115.7" cy="539.7" r="3.05" color="#2f6b8e"/>
<circle cx="66.2" cy="733.8" r="3.05" color="#26828e"/>
<circle cx="109.2" cy="551.8" r="3.05" color="#31668e"/>
<circle cx="65.6" cy="688.4" r="3.05" color="#2b758e"/>
<circle cx="69.3" cy="575.1" r="3.05" color="#3c4f8a"/>
<circle cx="108.2" cy="763.9" r="3.05" color="#33628d"/>
<circle cx="143.4" cy="591.6" r="3.05" color="#33628d"/>
<circle cx="112.3" cy="616.8" r="3.05" color="#433d84"/>
<circle cx="215.8" cy="518.6" r="3.05" color="#33628d"/>
<circle cx="68.6" cy="610.7" r="3.05" color="#2c728e"/>
<circle cx="131.8" cy="544.8" r="3.05" color="#424186"/>
<circle cx="224.7" cy="532.2" r="3.05" color="#33628d"/>
<circle cx="389.5" cy="456.6" r="3.05" color="#2f6b8e"/>
<circle cx="60.1" cy="683.0" r="3.05" color="#2f6b8e"/>
<circle cx="150.5" cy="582.6" r="3.05" color="#2f6b8e"/>
<circle cx="123.5" cy="580.8" r="3.05" color="#33628d"/>
<circle cx="81.5" cy="550.0" r="3.05" color="#228b8d"/>
<circle cx="104.9" cy="544.3" r="3.05" color="#46307e"/>
<circle cx="66.9" cy="684.3" r="3.05" color="#26828e"/>
<circle cx="262.8" cy="524.9" r="3.05" color="#33628d"/>
<circle cx="137.4" cy="621.9" r="3.05" color="#33628d"/>
<circle cx="124.2" cy="548.4" r="3.05" color="#3f4889"/>
<circle cx="140.0" cy="609.2" r="3.05" color="#33628d"/>
<circle cx="147.4" cy="621.0" r="3.05" color="#443983"/>
<circle cx="78.5" cy="548.1" r="3.05" color="#26828e"/>
<circle cx="148.0" cy="595.9" r="3.05" color="#297b8e"/>
<circle cx="202.1" cy="564.4" r="3.05" color="#2f6b8e"/>
<circle cx="331.3" cy="481.0" r="3.05" color="#30698e"/>
<circle cx="109.5" cy="623.8" r="3.05" color="#453581"/>
<circle cx="192.6" cy="533.8" r="3.05" color="#46327e"/>
<circle cx="61.9" cy="603.0" r="3.05" color="#2f6b8e"/>
<circle cx="322.9" cy="497.6" r="3.05" color="#3d4d8a"/>
<circle cx="98.8" cy="612.9" r="3.05" color="#433e85"/>
<circle cx="67.4" cy="575.0" r="3.05" color="#433d84"/>
<circle cx="137.8" cy="553.5" r="3.05" color="#33628d"/>
<circle cx="64.6" cy="591.7" r="3.05" color="#228b8d"/>
<circle cx="177.2" cy="632.3" r="3.05" color="#33628d"/>
<circle cx="95.1" cy="711.7" r="3.05" color="#21918c"/>
<circle cx="61.9" cy="710.3" r="3.05" color="#26828e"/>
<circle cx="146.8" cy="548.2" r="3.05" color="#33638d"/>
<circle cx="117.8" cy="554.7" r="3.05" color="#34608d"/>
<circle cx="274.6" cy="541.4" r="3.05" color="#443983"/>
<circle cx="333.0" cy="482.4" r="3.05" color="#33628d"/>
<circle cx="62.0" cy="644.6" r="3.05" color="#1f958b"/>
<circle cx="160.8" cy="600.6" r="3.05" color="#33628d"/>
<circle cx="64.8" cy="653.7" r="3.05" color="#1f9e89"/>
<circle cx="60.7" cy="641.3" r="3.05" color="#277e8e"/>
<circle cx="193.0" cy="548.1" r="3.05" color="#472e7c"/>
<circle cx="86.1" cy="574.7" r="3.05" color="#31668e"/>
<circle cx="84.7" cy="584.6" r="3.05" color="#3e4a89"/>
<circle cx="238.1" cy="544.6" r="3.05" color="#33628d"/>
<circle cx="105.0" cy="575.9" r="3.05" color="#2b758e"/>
<circle cx="178.1" cy="623.8" r="3.05" color="#375a8c"/>
<circle cx="84.5" cy="610.7" r="3.05" color="#46327e"/>
<circle cx="65.8" cy="546.0" r="3.05" color="#3a538b"/>
<circle cx="148.0" cy="569.3" r="3.05" color="#2f6c8e"/>
<circle cx="322.8" cy="474.6" r="3.05" color="#3d4d8a"/>
<circle cx="196.0" cy="537.6" r="3.05" color="#30698e"/>
<circle cx="189.5" cy="647.8" r="3.05" color="#33628d"/>
<circle cx="143.2" cy="633.2" r="3.05" color="#33628d"/>
<circle cx="258.5" cy="519.8" r="3.05" color="#2f6b8e"/>
<circle cx="344.3" cy="500.9" r="3.05" color="#33628d"/>
<circle cx="209.3" cy="519.1" r="3.05" color="#33628d"/>
<circle cx="157.4" cy="695.6" r="3.05" color="#33628d"/>
<circle cx="161.4" cy="621.1" r="3.05" color="#424186"/>
<circle cx="138.1" cy="540.9" r="3.05" color="#218f8d"/>
<circle cx="107.5" cy="579.1" r="3.05" color="#2f6c8e"/>
<circle cx="105.2" cy="586.5" r="3.05" color="#33638d"/>
<circle cx="123.5" cy="580.9" r="3.05" color="#2e6e8e"/>
<circle cx="93.5" cy="617.7" r="3.05" color="#3c4f8a"/>
<circle cx="124.4" cy="530.8" r="3.05" color="#3d4d8a"/>
<circle cx="199.3" cy="528.0" r="3.05" color="#46337f"/>
<circle cx="141.5" cy="523.8" r="3.05" color="#46327e"/>
<circle cx="102.9" cy="604.9" r="3.05" color="#433e85"/>
<circle cx="168.3" cy="553.4" r="3.05" color="#2e6e8e"/>
<circle cx="237.1" cy="552.3" r="3.05" color="#33628d"/>
<circle cx="95.6" cy="616.7" r="3.05" color="#46327e"/>
<circle cx="67.9" cy="665.6" r="3.05" color="#2a768e"/>
<circle cx="284.9" cy="520.3" r="3.05" color="#33628d"/>
<circle cx="63.0" cy="640.1" r="3.05" color="#27808e"/>
<circle cx="53.3" cy="623.6" r="3.05" color="#1e9b8a"/>
<circle cx="369.4" cy="464.9" r="3.05" color="#2f6b8e"/>
<circle cx="68.8" cy="560.1" r="3.05" color="#46327e"/>
<circle cx="161.6" cy="570.3" r="3.05" color="#443983"/>
<circle cx="72.8" cy="538.9" r="3.05" color="#2f6b8e"/>
<circle cx="198.7" cy="535.9" r="3.05" color="#443983"/>
<circle cx="108.7" cy="595.2" r="3.05" color="#46327e"/>
<circle cx="241.8" cy="558.6" r="3.05" color="#33628d"/>
<circle cx="86.8" cy="557.4" r="3.05" color="#2b758e"/>
<circle cx="70.2" cy="593.5" r="3.05" color="#228b8d"/>
<circle cx="109.3" cy="608.8" r="3.05" color="#2f6b8e"/>
<circle cx="78.8" cy="636.3" r="3.05" color="#297b8e"/>
<circle cx="231.2" cy="559.8" r="3.05" color="#2f6b8e"/>
<circle cx="153.1" cy="525.5" r="3.05" color="#33628d"/>
<circle cx="262.0" cy="535.5" r="3.05" color="#3d4d8a"/>
<circle cx="111.5" cy="541.2" r="3.05" color="#2f6b8e"/>
<circle cx="111.3" cy="557.1" r="3.05" color="#2b758e"/>
<circle cx="173.0" cy="696.8" r="3.05" color="#33628d"/>
<circle cx="151.1" cy="576.7" r="3.05" color="#424186"/>
<circle cx="102.9" cy="595.9" r="3.05" color="#2f6b8e"/>
<circle cx="101.7" cy="624.4" r="3.05" color="#2f6b8e"/>
<circle cx="110.6" cy="595.9" r="3.05" color="#38588c"/>
<circle cx="183.2" cy="566.4" r="3.05" color="#2f6b8e"/>
<circle cx="65.2" cy="548.8" r="3.05" color="#443983"/>
<circle cx="53.3" cy="628.5" r="3.05" color="#20928c"/>
<circle cx="52.1" cy="622.4" r="3.05" color="#1f978b"/>
<circle cx="73.3" cy="544.1" r="3.05" color="#31668e"/>
<circle cx="135.7" cy="647.8" r="3.05" color="#33628d"/>
<circle cx="128.7" cy="585.2" r="3.05" color="#26828e"/>
<circle cx="110.7" cy="602.0" r="3.05" color="#306a8e"/>
<circle cx="78.3" cy="664.3" r="3.05" color="#24878e"/>
<circle cx="75.4" cy="658.8" r="3.05" color="#25858e"/>
<circle cx="221.6" cy="545.4" r="3.05" color="#306a8e"/>
<circle cx="116.6" cy="609.0" r="3.05" color="#2f6b8e"/>
<circle cx="60.0" cy="564.8" r="3.05" color="#463480"/>
<circle cx="81.8" cy="595.1" r="3.05" color="#21918c"/>
<circle cx="151.9" cy="542.2" r="3.05" color="#2f6b8e"/>
<circle cx="353.9" cy="459.8" r="3.05" color="#38588c"/>
<circle cx="111.7" cy="535.2" r="3.05" color="#375a8c"/>
<circle cx="255.7" cy="562.2" r="3.05" color="#33628d"/>
<circle cx="186.6" cy="654.5" r="3.05" color="#33628d"/>
<circle cx="139.7" cy="576.5" r="3.05" color="#2b748e"/>
<circle cx="256.3" cy="521.0" r="3.05" color="#33628d"/>
<circle cx="90.9" cy="546.8" r="3.05" color="#228c8d"/>
<circle cx="181.3" cy="677.5" r="3.05" color="#33628d"/>
<circle cx="100.9" cy="620.5" r="3.05" color="#46337f"/>
<circle cx="73.5" cy="575.5" r="3.05" color="#424086"/>
<circle cx="84.7" cy="561.6" r="3.05" color="#23888e"/>
<circle cx="75.3" cy="617.5" r="3.05" color="#2b758e"/>
<circle cx="104.3" cy="547.5" r="3.05" color="#23898e"/>
<circle cx="92.0" cy="571.0" r="3.05" color="#27808e"/>
<circle cx="248.7" cy="527.8" r="3.05" color="#3a538b"/>
<circle cx="227.8" cy="540.1" r="3.05" color="#33628d"/>
<circle cx="88.5" cy="551.3" r="3.05" color="#2f6c8e"/>
<circle cx="185.3" cy="599.2" r="3.05" color="#453882"/>
<circle cx="242.4" cy="522.1" r="3.05" color="#33628d"/>
<circle cx="136.3" cy="528.9" r="3.05" color="#33628d"/>
<circle cx="68.0" cy="599.8" r="3.05" color="#23898e"/>
<circle cx="178.0" cy="567.5" r="3.05" color="#33628d"/>
<circle cx="84.6" cy="589.4" r="3.05" color="#2e6d8e"/>
<circle cx="103.3" cy="658.4" r="3.05" color="#26828e"/>
</g>
<g clip-path="url(#cb)"><line x1="244.00" y1="548.91" x2="435.90" y2="419.50" stroke="#000" stroke-width="2.3" stroke-dasharray="8.5 3.7"/></g>
<rect x="52.1" y="419.5" width="383.80" height="345.10" fill="none" stroke="#000" stroke-width="0.95"/>
<line x1="52.10" y1="764.6" x2="52.10" y2="768.6" stroke="#000" stroke-width="0.95"/>
<text x="52.10" y="781.7" text-anchor="middle">2.750</text>
<line x1="100.07" y1="764.6" x2="100.07" y2="768.6" stroke="#000" stroke-width="0.95"/>
<text x="100.07" y="781.7" text-anchor="middle">2.775</text>
<line x1="148.05" y1="764.6" x2="148.05" y2="768.6" stroke="#000" stroke-width="0.95"/>
<text x="148.05" y="781.7" text-anchor="middle">2.800</text>
<line x1="196.03" y1="764.6" x2="196.03" y2="768.6" stroke="#000" stroke-width="0.95"/>
<text x="196.03" y="781.7" text-anchor="middle">2.825</text>
<line x1="244.00" y1="764.6" x2="244.00" y2="768.6" stroke="#000" stroke-width="0.95"/>
<text x="244.00" y="781.7" text-anchor="middle">2.850</text>
<line x1="291.97" y1="764.6" x2="291.97" y2="768.6" stroke="#000" stroke-width="0.95"/>
<text x="291.97" y="781.7" text-anchor="middle">2.875</text>
<line x1="339.95" y1="764.6" x2="339.95" y2="768.6" stroke="#000" stroke-width="0.95"/>
<text x="339.95" y="781.7" text-anchor="middle">2.900</text>
<line x1="387.92" y1="764.6" x2="387.92" y2="768.6" stroke="#000" stroke-width="0.95"/>
<text x="387.92" y="781.7" text-anchor="middle">2.925</text>
<line x1="435.90" y1="764.6" x2="435.90" y2="768.6" stroke="#000" stroke-width="0.95"/>
<text x="435.90" y="781.7" text-anchor="middle">2.950</text>
<line x1="48.1" y1="764.60" x2="52.1" y2="764.60" stroke="#000" stroke-width="0.95"/>
<text x="43.4" y="769.20" text-anchor="end">6.0</text>
<line x1="48.1" y1="710.68" x2="52.1" y2="710.68" stroke="#000" stroke-width="0.95"/>
<text x="43.4" y="715.28" text-anchor="end">6.5</text>
<line x1="48.1" y1="656.76" x2="52.1" y2="656.76" stroke="#000" stroke-width="0.95"/>
<text x="43.4" y="661.35" text-anchor="end">7.0</text>
<line x1="48.1" y1="602.83" x2="52.1" y2="602.83" stroke="#000" stroke-width="0.95"/>
<text x="43.4" y="607.43" text-anchor="end">7.5</text>
<line x1="48.1" y1="548.91" x2="52.1" y2="548.91" stroke="#000" stroke-width="0.95"/>
<text x="43.4" y="553.51" text-anchor="end">8.0</text>
<line x1="48.1" y1="494.99" x2="52.1" y2="494.99" stroke="#000" stroke-width="0.95"/>
<text x="43.4" y="499.59" text-anchor="end">8.5</text>
<line x1="48.1" y1="441.07" x2="52.1" y2="441.07" stroke="#000" stroke-width="0.95"/>
<text x="43.4" y="445.67" text-anchor="end">9.0</text>
<text x="244" y="798.8" text-anchor="middle" style="font-size:11.95px">log plasma current</text>
<text transform="translate(13.2,592.5) rotate(-90)" text-anchor="middle" style="font-size:11.95px">log neutron yield</text>
<rect x="459.7" y="419.5" width="17.50" height="345.10" fill="url(#vg)" stroke="#000" stroke-width="0.95"/>
<line x1="477.2" y1="764.60" x2="481.2" y2="764.60" stroke="#000" stroke-width="0.95"/>
<text x="485.80" y="768.80">0</text>
<line x1="477.2" y1="726.26" x2="481.2" y2="726.26" stroke="#000" stroke-width="0.95"/>
<text x="485.80" y="730.45">2</text>
<line x1="477.2" y1="687.91" x2="481.2" y2="687.91" stroke="#000" stroke-width="0.95"/>
<text x="485.80" y="692.11">4</text>
<line x1="477.2" y1="649.57" x2="481.2" y2="649.57" stroke="#000" stroke-width="0.95"/>
<text x="485.80" y="653.76">6</text>
<line x1="477.2" y1="611.22" x2="481.2" y2="611.22" stroke="#000" stroke-width="0.95"/>
<text x="485.80" y="615.42">8</text>
<line x1="477.2" y1="572.88" x2="481.2" y2="572.88" stroke="#000" stroke-width="0.95"/>
<text x="485.80" y="577.08">10</text>
<line x1="477.2" y1="534.53" x2="481.2" y2="534.53" stroke="#000" stroke-width="0.95"/>
<text x="485.80" y="538.73">12</text>
<line x1="477.2" y1="496.19" x2="481.2" y2="496.19" stroke="#000" stroke-width="0.95"/>
<text x="485.80" y="500.39">14</text>
<line x1="477.2" y1="457.84" x2="481.2" y2="457.84" stroke="#000" stroke-width="0.95"/>
<text x="485.80" y="462.04">16</text>
<line x1="477.2" y1="419.50" x2="481.2" y2="419.50" stroke="#000" stroke-width="0.95"/>
<text x="485.80" y="423.70">18</text>
<text transform="translate(514.3,592.5) rotate(-90)" text-anchor="middle" style="font-size:11.95px">injected mass (mg)</text>
<rect x="58.3" y="425.2" width="90.6" height="43.6" rx="2.5" ry="2.5" fill="#fff" fill-opacity="0.8" stroke="#cccccc" stroke-width="0.95"/>
<text x="62.9" y="438.8" style="font-size:11.95px">scaling power</text>
<line x1="79.3" y1="457.4" x2="101" y2="457.4" stroke="#000" stroke-width="2.3" stroke-dasharray="8.5 3.7"/>
<text x="113.3" y="461" style="font-style:italic">I</text><text x="118.5" y="456.7" style="font-size:7.9px">12</text>
</svg></body></html>
